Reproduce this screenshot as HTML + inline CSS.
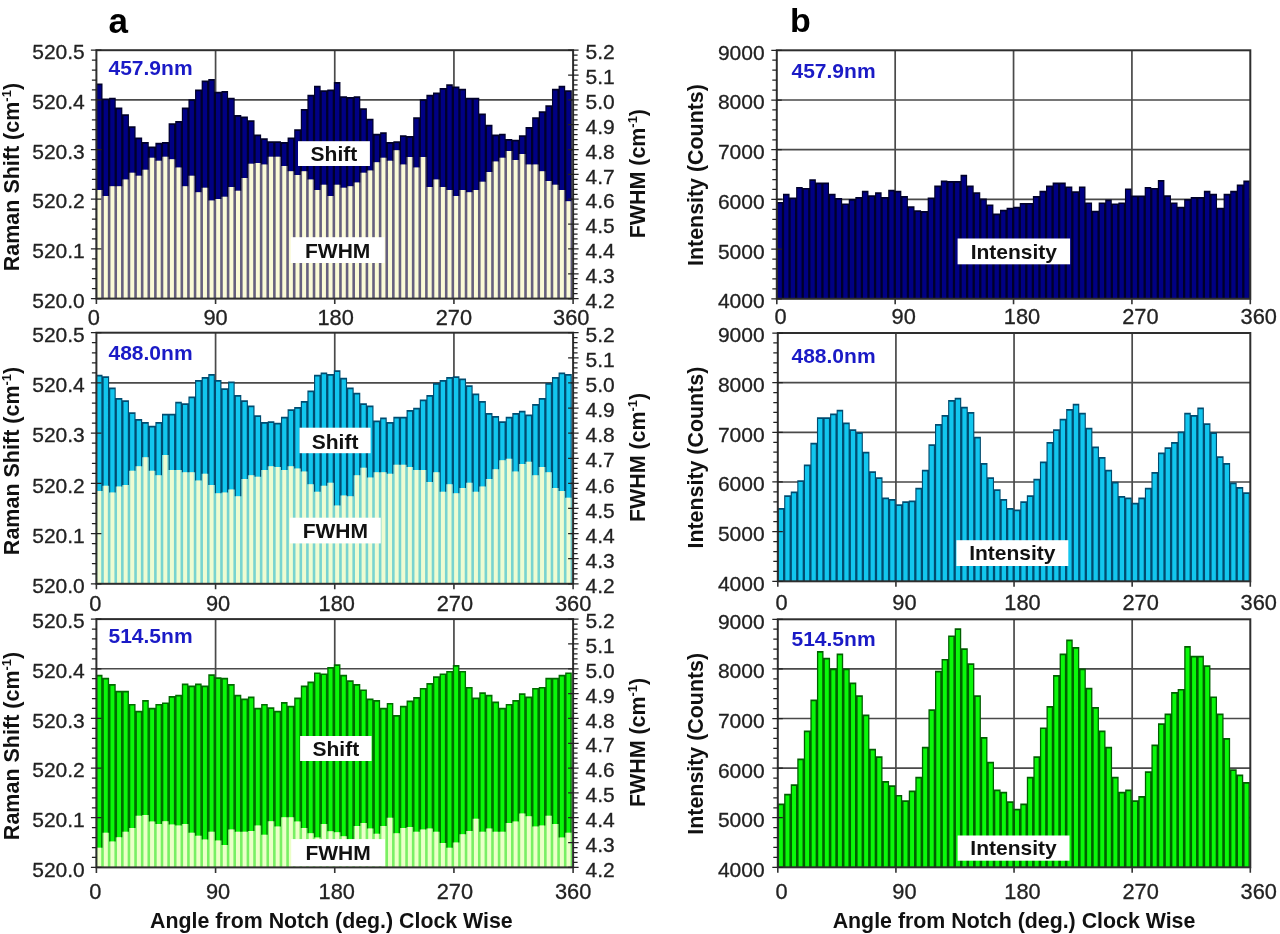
<!DOCTYPE html>
<html><head><meta charset="utf-8"><style>
html,body{margin:0;padding:0;background:#fff;overflow:hidden;}
svg{display:block;font-family:"Liberation Sans", sans-serif;}
svg{will-change:transform;}
</style></head><body>
<svg width="1280" height="934" viewBox="0 0 1280 934">
<rect width="1280" height="934" fill="#fff"/>
<path d="M215.58 50.2V298.6M334.75 50.2V298.6M453.93 50.2V298.6M96.4 99.88H573.1M96.4 149.56H573.1M96.4 199.24H573.1M96.4 248.92H573.1" stroke="#4a4a4a" stroke-width="1.7" fill="none"/>
<path d="M95.9 298.6V83.5H102.51V298.6ZM102.51 298.6V98.5H109.12V298.6ZM109.12 298.6V97.8H115.73V298.6ZM115.73 298.6V107.5H122.34V298.6ZM122.34 298.6V114.3H128.95V298.6ZM128.95 298.6V126.3H135.56V298.6ZM135.56 298.6V137.5H142.17V298.6ZM142.17 298.6V142H148.78V298.6ZM148.78 298.6V146.5H155.39V298.6ZM155.39 298.6V142.8H162V298.6ZM162 298.6V142H168.61V298.6ZM168.61 298.6V123.3H175.22V298.6ZM175.22 298.6V121H181.83V298.6ZM181.83 298.6V107.5H188.44V298.6ZM188.44 298.6V99.3H195.05V298.6ZM195.05 298.6V89.5H201.66V298.6ZM201.66 298.6V80.5H208.27V298.6ZM208.27 298.6V79H214.88V298.6ZM214.88 298.6V91.8H221.48V298.6ZM221.48 298.6V91H228.09V298.6ZM228.09 298.6V97.8H234.7V298.6ZM234.7 298.6V115H241.31V298.6ZM241.31 298.6V116.5H247.92V298.6ZM247.92 298.6V120.3H254.53V298.6ZM254.53 298.6V134.5H261.14V298.6ZM261.14 298.6V138.3H267.75V298.6ZM267.75 298.6V141.3H274.36V298.6ZM274.36 298.6V141.3H280.97V298.6ZM280.97 298.6V142H287.58V298.6ZM287.58 298.6V137.5H294.19V298.6ZM294.19 298.6V129.3H300.8V298.6ZM300.8 298.6V109H307.41V298.6ZM307.41 298.6V94.8H314.02V298.6ZM314.02 298.6V85.8H320.63V298.6ZM320.63 298.6V90.3H327.24V298.6ZM327.24 298.6V89.5H333.85V298.6ZM333.85 298.6V82H340.46V298.6ZM340.46 298.6V96.3H347.07V298.6ZM347.07 298.6V97H353.68V298.6ZM353.68 298.6V96.3H360.29V298.6ZM360.29 298.6V108.3H366.9V298.6ZM366.9 298.6V118.8H373.51V298.6ZM373.51 298.6V133.8H380.12V298.6ZM380.12 298.6V132.3H386.73V298.6ZM386.73 298.6V142H393.34V298.6ZM393.34 298.6V141.3H399.95V298.6ZM399.95 298.6V135.3H406.56V298.6ZM406.56 298.6V136H413.17V298.6ZM413.17 298.6V117.3H419.78V298.6ZM419.78 298.6V99.3H426.39V298.6ZM426.39 298.6V94.8H433V298.6ZM433 298.6V92.5H439.61V298.6ZM439.61 298.6V88H446.22V298.6ZM446.22 298.6V84.3H452.82V298.6ZM452.82 298.6V86.5H459.43V298.6ZM459.43 298.6V88.8H466.04V298.6ZM466.04 298.6V97.8H472.65V298.6ZM472.65 298.6V97.8H479.26V298.6ZM479.26 298.6V113.5H485.87V298.6ZM485.87 298.6V124.8H492.48V298.6ZM492.48 298.6V134.5H499.09V298.6ZM499.09 298.6V133.8H505.7V298.6ZM505.7 298.6V139H512.31V298.6ZM512.31 298.6V139.8H518.92V298.6ZM518.92 298.6V135.3H525.53V298.6ZM525.53 298.6V127H532.14V298.6ZM532.14 298.6V117.3H538.75V298.6ZM538.75 298.6V111.3H545.36V298.6ZM545.36 298.6V105.3H551.97V298.6ZM551.97 298.6V88.8H558.58V298.6ZM558.58 298.6V85.8H565.19V298.6ZM565.19 298.6V90.3H571.8V298.6Z" fill="#00002a"/>
<path d="M97.05 298.6V85.2H101.36V298.6ZM103.66 298.6V100.2H107.97V298.6ZM110.27 298.6V99.5H114.58V298.6ZM116.88 298.6V109.2H121.19V298.6ZM123.49 298.6V116H127.8V298.6ZM130.1 298.6V128H134.41V298.6ZM136.71 298.6V139.2H141.02V298.6ZM143.32 298.6V143.7H147.63V298.6ZM149.93 298.6V148.2H154.24V298.6ZM156.54 298.6V144.5H160.85V298.6ZM163.15 298.6V143.7H167.46V298.6ZM169.76 298.6V125H174.07V298.6ZM176.37 298.6V122.7H180.68V298.6ZM182.98 298.6V109.2H187.29V298.6ZM189.59 298.6V101H193.9V298.6ZM196.2 298.6V91.2H200.51V298.6ZM202.81 298.6V82.2H207.12V298.6ZM209.42 298.6V80.7H213.72V298.6ZM216.03 298.6V93.5H220.33V298.6ZM222.63 298.6V92.7H226.94V298.6ZM229.24 298.6V99.5H233.55V298.6ZM235.85 298.6V116.7H240.16V298.6ZM242.46 298.6V118.2H246.77V298.6ZM249.07 298.6V122H253.38V298.6ZM255.68 298.6V136.2H259.99V298.6ZM262.29 298.6V140H266.6V298.6ZM268.9 298.6V143H273.21V298.6ZM275.51 298.6V143H279.82V298.6ZM282.12 298.6V143.7H286.43V298.6ZM288.73 298.6V139.2H293.04V298.6ZM295.34 298.6V131H299.65V298.6ZM301.95 298.6V110.7H306.26V298.6ZM308.56 298.6V96.5H312.87V298.6ZM315.17 298.6V87.5H319.48V298.6ZM321.78 298.6V92H326.09V298.6ZM328.39 298.6V91.2H332.7V298.6ZM335 298.6V83.7H339.31V298.6ZM341.61 298.6V98H345.92V298.6ZM348.22 298.6V98.7H352.53V298.6ZM354.83 298.6V98H359.14V298.6ZM361.44 298.6V110H365.75V298.6ZM368.05 298.6V120.5H372.36V298.6ZM374.66 298.6V135.5H378.97V298.6ZM381.27 298.6V134H385.58V298.6ZM387.88 298.6V143.7H392.19V298.6ZM394.49 298.6V143H398.8V298.6ZM401.1 298.6V137H405.41V298.6ZM407.71 298.6V137.7H412.02V298.6ZM414.32 298.6V119H418.63V298.6ZM420.93 298.6V101H425.24V298.6ZM427.54 298.6V96.5H431.85V298.6ZM434.15 298.6V94.2H438.46V298.6ZM440.76 298.6V89.7H445.07V298.6ZM447.37 298.6V86H451.67V298.6ZM453.97 298.6V88.2H458.28V298.6ZM460.58 298.6V90.5H464.89V298.6ZM467.19 298.6V99.5H471.5V298.6ZM473.8 298.6V99.5H478.11V298.6ZM480.41 298.6V115.2H484.72V298.6ZM487.02 298.6V126.5H491.33V298.6ZM493.63 298.6V136.2H497.94V298.6ZM500.24 298.6V135.5H504.55V298.6ZM506.85 298.6V140.7H511.16V298.6ZM513.46 298.6V141.5H517.77V298.6ZM520.07 298.6V137H524.38V298.6ZM526.68 298.6V128.7H530.99V298.6ZM533.29 298.6V119H537.6V298.6ZM539.9 298.6V113H544.21V298.6ZM546.51 298.6V107H550.82V298.6ZM553.12 298.6V90.5H557.43V298.6ZM559.73 298.6V87.5H564.04V298.6ZM566.34 298.6V92H570.65V298.6Z" fill="#000084"/>
<path d="M95.9 298.6V190H102.51V298.6ZM102.51 298.6V196H109.12V298.6ZM109.12 298.6V186.2H115.73V298.6ZM115.73 298.6V186.2H122.34V298.6ZM122.34 298.6V179.4H128.95V298.6ZM128.95 298.6V172.7H135.56V298.6ZM135.56 298.6V175.7H142.17V298.6ZM142.17 298.6V169.7H148.78V298.6ZM148.78 298.6V157.7H155.39V298.6ZM155.39 298.6V160.7H162V298.6ZM162 298.6V156.7H168.61V298.6ZM168.61 298.6V159.2H175.22V298.6ZM175.22 298.6V167.5H181.83V298.6ZM181.83 298.6V186.2H188.44V298.6ZM188.44 298.6V175.7H195.05V298.6ZM195.05 298.6V192.2H201.66V298.6ZM201.66 298.6V187.7H208.27V298.6ZM208.27 298.6V200.4H214.88V298.6ZM214.88 298.6V199H221.48V298.6ZM221.48 298.6V196.7H228.09V298.6ZM228.09 298.6V187H234.7V298.6ZM234.7 298.6V190.7H241.31V298.6ZM241.31 298.6V178H247.92V298.6ZM247.92 298.6V163.7H254.53V298.6ZM254.53 298.6V163H261.14V298.6ZM261.14 298.6V164.5H267.75V298.6ZM267.75 298.6V156.7H274.36V298.6ZM274.36 298.6V156.7H280.97V298.6ZM280.97 298.6V166H287.58V298.6ZM287.58 298.6V171.2H294.19V298.6ZM294.19 298.6V175H300.8V298.6ZM300.8 298.6V171.2H307.41V298.6ZM307.41 298.6V179.4H314.02V298.6ZM314.02 298.6V190H320.63V298.6ZM320.63 298.6V184.7H327.24V298.6ZM327.24 298.6V196H333.85V298.6ZM333.85 298.6V184.7H340.46V298.6ZM340.46 298.6V187.7H347.07V298.6ZM347.07 298.6V186.2H353.68V298.6ZM353.68 298.6V182.4H360.29V298.6ZM360.29 298.6V172.7H366.9V298.6ZM366.9 298.6V170.4H373.51V298.6ZM373.51 298.6V162.2H380.12V298.6ZM380.12 298.6V157.7H386.73V298.6ZM386.73 298.6V160.7H393.34V298.6ZM393.34 298.6V150.2H399.95V298.6ZM399.95 298.6V164.5H406.56V298.6ZM406.56 298.6V157H413.17V298.6ZM413.17 298.6V167.5H419.78V298.6ZM419.78 298.6V157H426.39V298.6ZM426.39 298.6V187H433V298.6ZM433 298.6V179.4H439.61V298.6ZM439.61 298.6V187H446.22V298.6ZM446.22 298.6V190H452.82V298.6ZM452.82 298.6V196H459.43V298.6ZM459.43 298.6V190H466.04V298.6ZM466.04 298.6V192.2H472.65V298.6ZM472.65 298.6V190H479.26V298.6ZM479.26 298.6V181.7H485.87V298.6ZM485.87 298.6V172H492.48V298.6ZM492.48 298.6V161.5H499.09V298.6ZM499.09 298.6V157.7H505.7V298.6ZM505.7 298.6V151H512.31V298.6ZM512.31 298.6V160H518.92V298.6ZM518.92 298.6V154H525.53V298.6ZM525.53 298.6V164.5H532.14V298.6ZM532.14 298.6V164.5H538.75V298.6ZM538.75 298.6V171.2H545.36V298.6ZM545.36 298.6V181H551.97V298.6ZM551.97 298.6V184.7H558.58V298.6ZM558.58 298.6V190H565.19V298.6ZM565.19 298.6V201.2H571.8V298.6Z" fill="#66607e"/>
<path d="M97.2 298.6V190H101.21V298.6ZM103.81 298.6V196H107.82V298.6ZM110.42 298.6V186.2H114.43V298.6ZM117.03 298.6V186.2H121.04V298.6ZM123.64 298.6V179.4H127.65V298.6ZM130.25 298.6V172.7H134.26V298.6ZM136.86 298.6V175.7H140.87V298.6ZM143.47 298.6V169.7H147.48V298.6ZM150.08 298.6V157.7H154.09V298.6ZM156.69 298.6V160.7H160.7V298.6ZM163.3 298.6V156.7H167.31V298.6ZM169.91 298.6V159.2H173.92V298.6ZM176.52 298.6V167.5H180.53V298.6ZM183.13 298.6V186.2H187.14V298.6ZM189.74 298.6V175.7H193.75V298.6ZM196.35 298.6V192.2H200.36V298.6ZM202.96 298.6V187.7H206.97V298.6ZM209.57 298.6V200.4H213.57V298.6ZM216.18 298.6V199H220.18V298.6ZM222.78 298.6V196.7H226.79V298.6ZM229.39 298.6V187H233.4V298.6ZM236 298.6V190.7H240.01V298.6ZM242.61 298.6V178H246.62V298.6ZM249.22 298.6V163.7H253.23V298.6ZM255.83 298.6V163H259.84V298.6ZM262.44 298.6V164.5H266.45V298.6ZM269.05 298.6V156.7H273.06V298.6ZM275.66 298.6V156.7H279.67V298.6ZM282.27 298.6V166H286.28V298.6ZM288.88 298.6V171.2H292.89V298.6ZM295.49 298.6V175H299.5V298.6ZM302.1 298.6V171.2H306.11V298.6ZM308.71 298.6V179.4H312.72V298.6ZM315.32 298.6V190H319.33V298.6ZM321.93 298.6V184.7H325.94V298.6ZM328.54 298.6V196H332.55V298.6ZM335.15 298.6V184.7H339.16V298.6ZM341.76 298.6V187.7H345.77V298.6ZM348.37 298.6V186.2H352.38V298.6ZM354.98 298.6V182.4H358.99V298.6ZM361.59 298.6V172.7H365.6V298.6ZM368.2 298.6V170.4H372.21V298.6ZM374.81 298.6V162.2H378.82V298.6ZM381.42 298.6V157.7H385.43V298.6ZM388.03 298.6V160.7H392.04V298.6ZM394.64 298.6V150.2H398.65V298.6ZM401.25 298.6V164.5H405.26V298.6ZM407.86 298.6V157H411.87V298.6ZM414.47 298.6V167.5H418.48V298.6ZM421.08 298.6V157H425.09V298.6ZM427.69 298.6V187H431.7V298.6ZM434.3 298.6V179.4H438.31V298.6ZM440.91 298.6V187H444.92V298.6ZM447.52 298.6V190H451.52V298.6ZM454.12 298.6V196H458.13V298.6ZM460.73 298.6V190H464.74V298.6ZM467.34 298.6V192.2H471.35V298.6ZM473.95 298.6V190H477.96V298.6ZM480.56 298.6V181.7H484.57V298.6ZM487.17 298.6V172H491.18V298.6ZM493.78 298.6V161.5H497.79V298.6ZM500.39 298.6V157.7H504.4V298.6ZM507 298.6V151H511.01V298.6ZM513.61 298.6V160H517.62V298.6ZM520.22 298.6V154H524.23V298.6ZM526.83 298.6V164.5H530.84V298.6ZM533.44 298.6V164.5H537.45V298.6ZM540.05 298.6V171.2H544.06V298.6ZM546.66 298.6V181H550.67V298.6ZM553.27 298.6V184.7H557.28V298.6ZM559.88 298.6V190H563.89V298.6ZM566.49 298.6V201.2H570.5V298.6Z" fill="#fafad7"/>
<rect x="298" y="141.2" width="71.9" height="24.8" fill="#fff"/>
<text x="333.95" y="160.7" font-size="21" font-weight="bold" text-anchor="middle" fill="#111" >Shift</text>
<rect x="290.8" y="237.2" width="93.7" height="25.8" fill="#fff"/>
<text x="337.65" y="258.3" font-size="21" font-weight="bold" text-anchor="middle" fill="#111" >FWHM</text>
<rect x="96.4" y="50.2" width="476.7" height="248.4" fill="none" stroke="#2e2e2e" stroke-width="2.0"/>
<path d="M90.9 50.2H101.4M91.9 60.14H96.4M91.9 70.07H96.4M91.9 80.01H96.4M91.9 89.94H96.4M90.9 99.88H101.4M91.9 109.82H96.4M91.9 119.75H96.4M91.9 129.69H96.4M91.9 139.62H96.4M90.9 149.56H101.4M91.9 159.5H96.4M91.9 169.43H96.4M91.9 179.37H96.4M91.9 189.3H96.4M90.9 199.24H101.4M91.9 209.18H96.4M91.9 219.11H96.4M91.9 229.05H96.4M91.9 238.98H96.4M90.9 248.92H101.4M91.9 258.86H96.4M91.9 268.79H96.4M91.9 278.73H96.4M91.9 288.66H96.4M90.9 298.6H101.4" stroke="#222" stroke-width="1.25" fill="none"/>
<path d="M568.1 50.2H578.6M573.1 55.17H577.6M573.1 60.14H577.6M573.1 65.1H577.6M573.1 70.07H577.6M568.1 75.04H578.6M573.1 80.01H577.6M573.1 84.98H577.6M573.1 89.94H577.6M573.1 94.91H577.6M568.1 99.88H578.6M573.1 104.85H577.6M573.1 109.82H577.6M573.1 114.78H577.6M573.1 119.75H577.6M568.1 124.72H578.6M573.1 129.69H577.6M573.1 134.66H577.6M573.1 139.62H577.6M573.1 144.59H577.6M568.1 149.56H578.6M573.1 154.53H577.6M573.1 159.5H577.6M573.1 164.46H577.6M573.1 169.43H577.6M568.1 174.4H578.6M573.1 179.37H577.6M573.1 184.34H577.6M573.1 189.3H577.6M573.1 194.27H577.6M568.1 199.24H578.6M573.1 204.21H577.6M573.1 209.18H577.6M573.1 214.14H577.6M573.1 219.11H577.6M568.1 224.08H578.6M573.1 229.05H577.6M573.1 234.02H577.6M573.1 238.98H577.6M573.1 243.95H577.6M568.1 248.92H578.6M573.1 253.89H577.6M573.1 258.86H577.6M573.1 263.82H577.6M573.1 268.79H577.6M568.1 273.76H578.6M573.1 278.73H577.6M573.1 283.7H577.6M573.1 288.66H577.6M573.1 293.63H577.6M568.1 298.6H578.6" stroke="#222" stroke-width="1.25" fill="none"/>
<path d="M96.4 298.6V304.1M215.58 298.6V304.1M334.75 298.6V304.1M453.93 298.6V304.1M573.1 298.6V304.1" stroke="#333" stroke-width="1.6" fill="none"/>
<text x="84.8" y="307.8" font-size="21" font-weight="normal" text-anchor="end" fill="#222" stroke="#222" stroke-width="0.3">520.0</text>
<text x="84.8" y="258.12" font-size="21" font-weight="normal" text-anchor="end" fill="#222" stroke="#222" stroke-width="0.3">520.1</text>
<text x="84.8" y="208.44" font-size="21" font-weight="normal" text-anchor="end" fill="#222" stroke="#222" stroke-width="0.3">520.2</text>
<text x="84.8" y="158.76" font-size="21" font-weight="normal" text-anchor="end" fill="#222" stroke="#222" stroke-width="0.3">520.3</text>
<text x="84.8" y="109.08" font-size="21" font-weight="normal" text-anchor="end" fill="#222" stroke="#222" stroke-width="0.3">520.4</text>
<text x="84.8" y="59.4" font-size="21" font-weight="normal" text-anchor="end" fill="#222" stroke="#222" stroke-width="0.3">520.5</text>
<text x="585.5" y="307.8" font-size="21" font-weight="normal" text-anchor="start" fill="#222" stroke="#222" stroke-width="0.3">4.2</text>
<text x="585.5" y="282.96" font-size="21" font-weight="normal" text-anchor="start" fill="#222" stroke="#222" stroke-width="0.3">4.3</text>
<text x="585.5" y="258.12" font-size="21" font-weight="normal" text-anchor="start" fill="#222" stroke="#222" stroke-width="0.3">4.4</text>
<text x="585.5" y="233.28" font-size="21" font-weight="normal" text-anchor="start" fill="#222" stroke="#222" stroke-width="0.3">4.5</text>
<text x="585.5" y="208.44" font-size="21" font-weight="normal" text-anchor="start" fill="#222" stroke="#222" stroke-width="0.3">4.6</text>
<text x="585.5" y="183.6" font-size="21" font-weight="normal" text-anchor="start" fill="#222" stroke="#222" stroke-width="0.3">4.7</text>
<text x="585.5" y="158.76" font-size="21" font-weight="normal" text-anchor="start" fill="#222" stroke="#222" stroke-width="0.3">4.8</text>
<text x="585.5" y="133.92" font-size="21" font-weight="normal" text-anchor="start" fill="#222" stroke="#222" stroke-width="0.3">4.9</text>
<text x="585.5" y="109.08" font-size="21" font-weight="normal" text-anchor="start" fill="#222" stroke="#222" stroke-width="0.3">5.0</text>
<text x="585.5" y="84.24" font-size="21" font-weight="normal" text-anchor="start" fill="#222" stroke="#222" stroke-width="0.3">5.1</text>
<text x="585.5" y="59.4" font-size="21" font-weight="normal" text-anchor="start" fill="#222" stroke="#222" stroke-width="0.3">5.2</text>
<text x="93.9" y="325.2" font-size="21.8" font-weight="normal" text-anchor="middle" fill="#222" stroke="#222" stroke-width="0.3">0</text>
<text x="215.58" y="325.2" font-size="21.8" font-weight="normal" text-anchor="middle" fill="#222" stroke="#222" stroke-width="0.3">90</text>
<text x="335.6" y="325.2" font-size="21.8" font-weight="normal" text-anchor="middle" fill="#222" stroke="#222" stroke-width="0.3">180</text>
<text x="453.93" y="325.2" font-size="21.8" font-weight="normal" text-anchor="middle" fill="#222" stroke="#222" stroke-width="0.3">270</text>
<text x="571.3" y="325.2" font-size="21.8" font-weight="normal" text-anchor="middle" fill="#222" stroke="#222" stroke-width="0.3">360</text>
<text x="108.5" y="74.7" font-size="21" font-weight="bold" text-anchor="start" fill="#1a1ac6" >457.9nm</text>
<text transform="translate(19.4,177.1) rotate(-90)" font-size="21.5" font-weight="bold" text-anchor="middle" fill="#111">Raman Shift (cm<tspan font-size="13" dy="-8">-1</tspan><tspan dy="8">)</tspan></text>
<text transform="translate(645.4,173.6) rotate(-90)" font-size="21.4" font-weight="bold" text-anchor="middle" fill="#111">FWHM (cm<tspan font-size="13" dy="-8">-1</tspan><tspan dy="8">)</tspan></text>
<path d="M215.58 332.7V583.8M334.75 332.7V583.8M453.93 332.7V583.8M96.4 382.92H573.1M96.4 433.14H573.1M96.4 483.36H573.1M96.4 533.58H573.1" stroke="#4a4a4a" stroke-width="1.7" fill="none"/>
<path d="M95.9 583.8V374.8H102.51V583.8ZM102.51 583.8V376.3H109.12V583.8ZM109.12 583.8V387.5H115.73V583.8ZM115.73 583.8V398H122.34V583.8ZM122.34 583.8V400.3H128.95V583.8ZM128.95 583.8V412.3H135.56V583.8ZM135.56 583.8V419H142.17V583.8ZM142.17 583.8V422H148.78V583.8ZM148.78 583.8V425.8H155.39V583.8ZM155.39 583.8V422H162V583.8ZM162 583.8V413.8H168.61V583.8ZM168.61 583.8V413.8H175.22V583.8ZM175.22 583.8V401.8H181.83V583.8ZM181.83 583.8V403.3H188.44V583.8ZM188.44 583.8V396.5H195.05V583.8ZM195.05 583.8V380H201.66V583.8ZM201.66 583.8V377H208.27V583.8ZM208.27 583.8V374H214.88V583.8ZM214.88 583.8V380H221.48V583.8ZM221.48 583.8V388.3H228.09V583.8ZM228.09 583.8V381.5H234.7V583.8ZM234.7 583.8V395H241.31V583.8ZM241.31 583.8V400.3H247.92V583.8ZM247.92 583.8V405.5H254.53V583.8ZM254.53 583.8V415.3H261.14V583.8ZM261.14 583.8V422H267.75V583.8ZM267.75 583.8V421.3H274.36V583.8ZM274.36 583.8V422.8H280.97V583.8ZM280.97 583.8V416.8H287.58V583.8ZM287.58 583.8V409.3H294.19V583.8ZM294.19 583.8V407H300.8V583.8ZM300.8 583.8V401H307.41V583.8ZM307.41 583.8V390.5H314.02V583.8ZM314.02 583.8V374.8H320.63V583.8ZM320.63 583.8V372.5H327.24V583.8ZM327.24 583.8V374H333.85V583.8ZM333.85 583.8V370.3H340.46V583.8ZM340.46 583.8V377.8H347.07V583.8ZM347.07 583.8V387.5H353.68V583.8ZM353.68 583.8V392.8H360.29V583.8ZM360.29 583.8V403.3H366.9V583.8ZM366.9 583.8V405.5H373.51V583.8ZM373.51 583.8V420.5H380.12V583.8ZM380.12 583.8V417.5H386.73V583.8ZM386.73 583.8V422H393.34V583.8ZM393.34 583.8V416.8H399.95V583.8ZM399.95 583.8V416.8H406.56V583.8ZM406.56 583.8V410H413.17V583.8ZM413.17 583.8V407.8H419.78V583.8ZM419.78 583.8V399.5H426.39V583.8ZM426.39 583.8V395H433V583.8ZM433 583.8V383H439.61V583.8ZM439.61 583.8V380H446.22V583.8ZM446.22 583.8V377H452.82V583.8ZM452.82 583.8V376.3H459.43V583.8ZM459.43 583.8V378.5H466.04V583.8ZM466.04 583.8V385.3H472.65V583.8ZM472.65 583.8V393.5H479.26V583.8ZM479.26 583.8V401H485.87V583.8ZM485.87 583.8V413H492.48V583.8ZM492.48 583.8V416H499.09V583.8ZM499.09 583.8V421.3H505.7V583.8ZM505.7 583.8V416.8H512.31V583.8ZM512.31 583.8V413H518.92V583.8ZM518.92 583.8V410.8H525.53V583.8ZM525.53 583.8V414.5H532.14V583.8ZM532.14 583.8V404H538.75V583.8ZM538.75 583.8V398H545.36V583.8ZM545.36 583.8V383H551.97V583.8ZM551.97 583.8V377H558.58V583.8ZM558.58 583.8V372.5H565.19V583.8ZM565.19 583.8V374H571.8V583.8Z" fill="#004c70"/>
<path d="M97.05 583.8V376.5H101.36V583.8ZM103.66 583.8V378H107.97V583.8ZM110.27 583.8V389.2H114.58V583.8ZM116.88 583.8V399.7H121.19V583.8ZM123.49 583.8V402H127.8V583.8ZM130.1 583.8V414H134.41V583.8ZM136.71 583.8V420.7H141.02V583.8ZM143.32 583.8V423.7H147.63V583.8ZM149.93 583.8V427.5H154.24V583.8ZM156.54 583.8V423.7H160.85V583.8ZM163.15 583.8V415.5H167.46V583.8ZM169.76 583.8V415.5H174.07V583.8ZM176.37 583.8V403.5H180.68V583.8ZM182.98 583.8V405H187.29V583.8ZM189.59 583.8V398.2H193.9V583.8ZM196.2 583.8V381.7H200.51V583.8ZM202.81 583.8V378.7H207.12V583.8ZM209.42 583.8V375.7H213.72V583.8ZM216.03 583.8V381.7H220.33V583.8ZM222.63 583.8V390H226.94V583.8ZM229.24 583.8V383.2H233.55V583.8ZM235.85 583.8V396.7H240.16V583.8ZM242.46 583.8V402H246.77V583.8ZM249.07 583.8V407.2H253.38V583.8ZM255.68 583.8V417H259.99V583.8ZM262.29 583.8V423.7H266.6V583.8ZM268.9 583.8V423H273.21V583.8ZM275.51 583.8V424.5H279.82V583.8ZM282.12 583.8V418.5H286.43V583.8ZM288.73 583.8V411H293.04V583.8ZM295.34 583.8V408.7H299.65V583.8ZM301.95 583.8V402.7H306.26V583.8ZM308.56 583.8V392.2H312.87V583.8ZM315.17 583.8V376.5H319.48V583.8ZM321.78 583.8V374.2H326.09V583.8ZM328.39 583.8V375.7H332.7V583.8ZM335 583.8V372H339.31V583.8ZM341.61 583.8V379.5H345.92V583.8ZM348.22 583.8V389.2H352.53V583.8ZM354.83 583.8V394.5H359.14V583.8ZM361.44 583.8V405H365.75V583.8ZM368.05 583.8V407.2H372.36V583.8ZM374.66 583.8V422.2H378.97V583.8ZM381.27 583.8V419.2H385.58V583.8ZM387.88 583.8V423.7H392.19V583.8ZM394.49 583.8V418.5H398.8V583.8ZM401.1 583.8V418.5H405.41V583.8ZM407.71 583.8V411.7H412.02V583.8ZM414.32 583.8V409.5H418.63V583.8ZM420.93 583.8V401.2H425.24V583.8ZM427.54 583.8V396.7H431.85V583.8ZM434.15 583.8V384.7H438.46V583.8ZM440.76 583.8V381.7H445.07V583.8ZM447.37 583.8V378.7H451.67V583.8ZM453.97 583.8V378H458.28V583.8ZM460.58 583.8V380.2H464.89V583.8ZM467.19 583.8V387H471.5V583.8ZM473.8 583.8V395.2H478.11V583.8ZM480.41 583.8V402.7H484.72V583.8ZM487.02 583.8V414.7H491.33V583.8ZM493.63 583.8V417.7H497.94V583.8ZM500.24 583.8V423H504.55V583.8ZM506.85 583.8V418.5H511.16V583.8ZM513.46 583.8V414.7H517.77V583.8ZM520.07 583.8V412.5H524.38V583.8ZM526.68 583.8V416.2H530.99V583.8ZM533.29 583.8V405.7H537.6V583.8ZM539.9 583.8V399.7H544.21V583.8ZM546.51 583.8V384.7H550.82V583.8ZM553.12 583.8V378.7H557.43V583.8ZM559.73 583.8V374.2H564.04V583.8ZM566.34 583.8V375.7H570.65V583.8Z" fill="#12c6ee"/>
<path d="M95.9 583.8V491H102.51V583.8ZM102.51 583.8V485.7H109.12V583.8ZM109.12 583.8V492.4H115.73V583.8ZM115.73 583.8V486.4H122.34V583.8ZM122.34 583.8V485H128.95V583.8ZM128.95 583.8V470.7H135.56V583.8ZM135.56 583.8V466.2H142.17V583.8ZM142.17 583.8V457.2H148.78V583.8ZM148.78 583.8V470.7H155.39V583.8ZM155.39 583.8V475.2H162V583.8ZM162 583.8V455H168.61V583.8ZM168.61 583.8V470H175.22V583.8ZM175.22 583.8V470H181.83V583.8ZM181.83 583.8V472.2H188.44V583.8ZM188.44 583.8V472.2H195.05V583.8ZM195.05 583.8V480.4H201.66V583.8ZM201.66 583.8V473.7H208.27V583.8ZM208.27 583.8V485H214.88V583.8ZM214.88 583.8V493.2H221.48V583.8ZM221.48 583.8V492.4H228.09V583.8ZM228.09 583.8V489.4H234.7V583.8ZM234.7 583.8V496.2H241.31V583.8ZM241.31 583.8V479H247.92V583.8ZM247.92 583.8V475.2H254.53V583.8ZM254.53 583.8V476.7H261.14V583.8ZM261.14 583.8V470H267.75V583.8ZM267.75 583.8V466.2H274.36V583.8ZM274.36 583.8V467H280.97V583.8ZM280.97 583.8V470H287.58V583.8ZM287.58 583.8V466.2H294.19V583.8ZM294.19 583.8V468.4H300.8V583.8ZM300.8 583.8V471.4H307.41V583.8ZM307.41 583.8V484.2H314.02V583.8ZM314.02 583.8V491.7H320.63V583.8ZM320.63 583.8V485.7H327.24V583.8ZM327.24 583.8V482.7H333.85V583.8ZM333.85 583.8V505.6H340.46V583.8ZM340.46 583.8V495.4H347.07V583.8ZM347.07 583.8V496.2H353.68V583.8ZM353.68 583.8V475.2H360.29V583.8ZM360.29 583.8V467.7H366.9V583.8ZM366.9 583.8V477.4H373.51V583.8ZM373.51 583.8V472.2H380.12V583.8ZM380.12 583.8V472.2H386.73V583.8ZM386.73 583.8V473.7H393.34V583.8ZM393.34 583.8V464.7H399.95V583.8ZM399.95 583.8V464.7H406.56V583.8ZM406.56 583.8V467H413.17V583.8ZM413.17 583.8V470H419.78V583.8ZM419.78 583.8V470H426.39V583.8ZM426.39 583.8V482H433V583.8ZM433 583.8V472.2H439.61V583.8ZM439.61 583.8V491.7H446.22V583.8ZM446.22 583.8V484.2H452.82V583.8ZM452.82 583.8V493.2H459.43V583.8ZM459.43 583.8V488H466.04V583.8ZM466.04 583.8V482.7H472.65V583.8ZM472.65 583.8V491.7H479.26V583.8ZM479.26 583.8V486.4H485.87V583.8ZM485.87 583.8V479H492.48V583.8ZM492.48 583.8V469.2H499.09V583.8ZM499.09 583.8V460.2H505.7V583.8ZM505.7 583.8V458.7H512.31V583.8ZM512.31 583.8V471.4H518.92V583.8ZM518.92 583.8V464H525.53V583.8ZM525.53 583.8V461.7H532.14V583.8ZM532.14 583.8V475.2H538.75V583.8ZM538.75 583.8V467H545.36V583.8ZM545.36 583.8V472.2H551.97V583.8ZM551.97 583.8V488H558.58V583.8ZM558.58 583.8V491H565.19V583.8ZM565.19 583.8V497.7H571.8V583.8Z" fill="#78d4d0"/>
<path d="M97.2 583.8V491H101.21V583.8ZM103.81 583.8V485.7H107.82V583.8ZM110.42 583.8V492.4H114.43V583.8ZM117.03 583.8V486.4H121.04V583.8ZM123.64 583.8V485H127.65V583.8ZM130.25 583.8V470.7H134.26V583.8ZM136.86 583.8V466.2H140.87V583.8ZM143.47 583.8V457.2H147.48V583.8ZM150.08 583.8V470.7H154.09V583.8ZM156.69 583.8V475.2H160.7V583.8ZM163.3 583.8V455H167.31V583.8ZM169.91 583.8V470H173.92V583.8ZM176.52 583.8V470H180.53V583.8ZM183.13 583.8V472.2H187.14V583.8ZM189.74 583.8V472.2H193.75V583.8ZM196.35 583.8V480.4H200.36V583.8ZM202.96 583.8V473.7H206.97V583.8ZM209.57 583.8V485H213.57V583.8ZM216.18 583.8V493.2H220.18V583.8ZM222.78 583.8V492.4H226.79V583.8ZM229.39 583.8V489.4H233.4V583.8ZM236 583.8V496.2H240.01V583.8ZM242.61 583.8V479H246.62V583.8ZM249.22 583.8V475.2H253.23V583.8ZM255.83 583.8V476.7H259.84V583.8ZM262.44 583.8V470H266.45V583.8ZM269.05 583.8V466.2H273.06V583.8ZM275.66 583.8V467H279.67V583.8ZM282.27 583.8V470H286.28V583.8ZM288.88 583.8V466.2H292.89V583.8ZM295.49 583.8V468.4H299.5V583.8ZM302.1 583.8V471.4H306.11V583.8ZM308.71 583.8V484.2H312.72V583.8ZM315.32 583.8V491.7H319.33V583.8ZM321.93 583.8V485.7H325.94V583.8ZM328.54 583.8V482.7H332.55V583.8ZM335.15 583.8V505.6H339.16V583.8ZM341.76 583.8V495.4H345.77V583.8ZM348.37 583.8V496.2H352.38V583.8ZM354.98 583.8V475.2H358.99V583.8ZM361.59 583.8V467.7H365.6V583.8ZM368.2 583.8V477.4H372.21V583.8ZM374.81 583.8V472.2H378.82V583.8ZM381.42 583.8V472.2H385.43V583.8ZM388.03 583.8V473.7H392.04V583.8ZM394.64 583.8V464.7H398.65V583.8ZM401.25 583.8V464.7H405.26V583.8ZM407.86 583.8V467H411.87V583.8ZM414.47 583.8V470H418.48V583.8ZM421.08 583.8V470H425.09V583.8ZM427.69 583.8V482H431.7V583.8ZM434.3 583.8V472.2H438.31V583.8ZM440.91 583.8V491.7H444.92V583.8ZM447.52 583.8V484.2H451.52V583.8ZM454.12 583.8V493.2H458.13V583.8ZM460.73 583.8V488H464.74V583.8ZM467.34 583.8V482.7H471.35V583.8ZM473.95 583.8V491.7H477.96V583.8ZM480.56 583.8V486.4H484.57V583.8ZM487.17 583.8V479H491.18V583.8ZM493.78 583.8V469.2H497.79V583.8ZM500.39 583.8V460.2H504.4V583.8ZM507 583.8V458.7H511.01V583.8ZM513.61 583.8V471.4H517.62V583.8ZM520.22 583.8V464H524.23V583.8ZM526.83 583.8V461.7H530.84V583.8ZM533.44 583.8V475.2H537.45V583.8ZM540.05 583.8V467H544.06V583.8ZM546.66 583.8V472.2H550.67V583.8ZM553.27 583.8V488H557.28V583.8ZM559.88 583.8V491H563.89V583.8ZM566.49 583.8V497.7H570.5V583.8Z" fill="#eefcd2"/>
<rect x="299.5" y="427.7" width="71.1" height="25.5" fill="#fff"/>
<text x="335.05" y="448.7" font-size="21" font-weight="bold" text-anchor="middle" fill="#111" >Shift</text>
<rect x="289.8" y="517.7" width="91" height="25.7" fill="#fff"/>
<text x="335.3" y="538.3" font-size="21" font-weight="bold" text-anchor="middle" fill="#111" >FWHM</text>
<rect x="96.4" y="332.7" width="476.7" height="251.1" fill="none" stroke="#2e2e2e" stroke-width="2.0"/>
<path d="M90.9 332.7H101.4M91.9 342.74H96.4M91.9 352.79H96.4M91.9 362.83H96.4M91.9 372.88H96.4M90.9 382.92H101.4M91.9 392.96H96.4M91.9 403.01H96.4M91.9 413.05H96.4M91.9 423.1H96.4M90.9 433.14H101.4M91.9 443.18H96.4M91.9 453.23H96.4M91.9 463.27H96.4M91.9 473.32H96.4M90.9 483.36H101.4M91.9 493.4H96.4M91.9 503.45H96.4M91.9 513.49H96.4M91.9 523.54H96.4M90.9 533.58H101.4M91.9 543.62H96.4M91.9 553.67H96.4M91.9 563.71H96.4M91.9 573.76H96.4M90.9 583.8H101.4" stroke="#222" stroke-width="1.25" fill="none"/>
<path d="M568.1 332.7H578.6M573.1 337.72H577.6M573.1 342.74H577.6M573.1 347.77H577.6M573.1 352.79H577.6M568.1 357.81H578.6M573.1 362.83H577.6M573.1 367.85H577.6M573.1 372.88H577.6M573.1 377.9H577.6M568.1 382.92H578.6M573.1 387.94H577.6M573.1 392.96H577.6M573.1 397.99H577.6M573.1 403.01H577.6M568.1 408.03H578.6M573.1 413.05H577.6M573.1 418.07H577.6M573.1 423.1H577.6M573.1 428.12H577.6M568.1 433.14H578.6M573.1 438.16H577.6M573.1 443.18H577.6M573.1 448.21H577.6M573.1 453.23H577.6M568.1 458.25H578.6M573.1 463.27H577.6M573.1 468.29H577.6M573.1 473.32H577.6M573.1 478.34H577.6M568.1 483.36H578.6M573.1 488.38H577.6M573.1 493.4H577.6M573.1 498.43H577.6M573.1 503.45H577.6M568.1 508.47H578.6M573.1 513.49H577.6M573.1 518.51H577.6M573.1 523.54H577.6M573.1 528.56H577.6M568.1 533.58H578.6M573.1 538.6H577.6M573.1 543.62H577.6M573.1 548.65H577.6M573.1 553.67H577.6M568.1 558.69H578.6M573.1 563.71H577.6M573.1 568.73H577.6M573.1 573.76H577.6M573.1 578.78H577.6M568.1 583.8H578.6" stroke="#222" stroke-width="1.25" fill="none"/>
<path d="M96.4 583.8V589.3M215.58 583.8V589.3M334.75 583.8V589.3M453.93 583.8V589.3M573.1 583.8V589.3" stroke="#333" stroke-width="1.6" fill="none"/>
<text x="84.8" y="593" font-size="21" font-weight="normal" text-anchor="end" fill="#222" stroke="#222" stroke-width="0.3">520.0</text>
<text x="84.8" y="542.78" font-size="21" font-weight="normal" text-anchor="end" fill="#222" stroke="#222" stroke-width="0.3">520.1</text>
<text x="84.8" y="492.56" font-size="21" font-weight="normal" text-anchor="end" fill="#222" stroke="#222" stroke-width="0.3">520.2</text>
<text x="84.8" y="442.34" font-size="21" font-weight="normal" text-anchor="end" fill="#222" stroke="#222" stroke-width="0.3">520.3</text>
<text x="84.8" y="392.12" font-size="21" font-weight="normal" text-anchor="end" fill="#222" stroke="#222" stroke-width="0.3">520.4</text>
<text x="84.8" y="341.9" font-size="21" font-weight="normal" text-anchor="end" fill="#222" stroke="#222" stroke-width="0.3">520.5</text>
<text x="585.5" y="593" font-size="21" font-weight="normal" text-anchor="start" fill="#222" stroke="#222" stroke-width="0.3">4.2</text>
<text x="585.5" y="567.89" font-size="21" font-weight="normal" text-anchor="start" fill="#222" stroke="#222" stroke-width="0.3">4.3</text>
<text x="585.5" y="542.78" font-size="21" font-weight="normal" text-anchor="start" fill="#222" stroke="#222" stroke-width="0.3">4.4</text>
<text x="585.5" y="517.67" font-size="21" font-weight="normal" text-anchor="start" fill="#222" stroke="#222" stroke-width="0.3">4.5</text>
<text x="585.5" y="492.56" font-size="21" font-weight="normal" text-anchor="start" fill="#222" stroke="#222" stroke-width="0.3">4.6</text>
<text x="585.5" y="467.45" font-size="21" font-weight="normal" text-anchor="start" fill="#222" stroke="#222" stroke-width="0.3">4.7</text>
<text x="585.5" y="442.34" font-size="21" font-weight="normal" text-anchor="start" fill="#222" stroke="#222" stroke-width="0.3">4.8</text>
<text x="585.5" y="417.23" font-size="21" font-weight="normal" text-anchor="start" fill="#222" stroke="#222" stroke-width="0.3">4.9</text>
<text x="585.5" y="392.12" font-size="21" font-weight="normal" text-anchor="start" fill="#222" stroke="#222" stroke-width="0.3">5.0</text>
<text x="585.5" y="367.01" font-size="21" font-weight="normal" text-anchor="start" fill="#222" stroke="#222" stroke-width="0.3">5.1</text>
<text x="585.5" y="341.9" font-size="21" font-weight="normal" text-anchor="start" fill="#222" stroke="#222" stroke-width="0.3">5.2</text>
<text x="95.4" y="610.5" font-size="21.8" font-weight="normal" text-anchor="middle" fill="#222" stroke="#222" stroke-width="0.3">0</text>
<text x="218.08" y="610.5" font-size="21.8" font-weight="normal" text-anchor="middle" fill="#222" stroke="#222" stroke-width="0.3">90</text>
<text x="336.75" y="610.5" font-size="21.8" font-weight="normal" text-anchor="middle" fill="#222" stroke="#222" stroke-width="0.3">180</text>
<text x="454.93" y="610.5" font-size="21.8" font-weight="normal" text-anchor="middle" fill="#222" stroke="#222" stroke-width="0.3">270</text>
<text x="573.1" y="610.5" font-size="21.8" font-weight="normal" text-anchor="middle" fill="#222" stroke="#222" stroke-width="0.3">360</text>
<text x="108.5" y="359.6" font-size="21" font-weight="bold" text-anchor="start" fill="#1a1ac6" >488.0nm</text>
<text transform="translate(19.4,460.95) rotate(-90)" font-size="21.5" font-weight="bold" text-anchor="middle" fill="#111">Raman Shift (cm<tspan font-size="13" dy="-8">-1</tspan><tspan dy="8">)</tspan></text>
<text transform="translate(645.4,457.45) rotate(-90)" font-size="21.4" font-weight="bold" text-anchor="middle" fill="#111">FWHM (cm<tspan font-size="13" dy="-8">-1</tspan><tspan dy="8">)</tspan></text>
<path d="M215.58 619.1V867.4M334.75 619.1V867.4M453.93 619.1V867.4M96.4 668.76H573.1M96.4 718.42H573.1M96.4 768.08H573.1M96.4 817.74H573.1" stroke="#4a4a4a" stroke-width="1.7" fill="none"/>
<path d="M95.9 867.4V674.8H102.51V867.4ZM102.51 867.4V677.7H109.12V867.4ZM109.12 867.4V684H115.73V867.4ZM115.73 867.4V690.8H122.34V867.4ZM122.34 867.4V690.8H128.95V867.4ZM128.95 867.4V703.9H135.56V867.4ZM135.56 867.4V710.7H142.17V867.4ZM142.17 867.4V700H148.78V867.4ZM148.78 867.4V707.8H155.39V867.4ZM155.39 867.4V703.9H162V867.4ZM162 867.4V702.4H168.61V867.4ZM168.61 867.4V696.1H175.22V867.4ZM175.22 867.4V694.7H181.83V867.4ZM181.83 867.4V683.5H188.44V867.4ZM188.44 867.4V685.5H195.05V867.4ZM195.05 867.4V683.5H201.66V867.4ZM201.66 867.4V685.5H208.27V867.4ZM208.27 867.4V674.3H214.88V867.4ZM214.88 867.4V677.3H221.48V867.4ZM221.48 867.4V677.7H228.09V867.4ZM228.09 867.4V684H234.7V867.4ZM234.7 867.4V694.7H241.31V867.4ZM241.31 867.4V698.6H247.92V867.4ZM247.92 867.4V696.6H254.53V867.4ZM254.53 867.4V707.8H261.14V867.4ZM261.14 867.4V703.9H267.75V867.4ZM267.75 867.4V707.3H274.36V867.4ZM274.36 867.4V710.7H280.97V867.4ZM280.97 867.4V702H287.58V867.4ZM287.58 867.4V705.8H294.19V867.4ZM294.19 867.4V697.6H300.8V867.4ZM300.8 867.4V685.5H307.41V867.4ZM307.41 867.4V681.6H314.02V867.4ZM314.02 867.4V672.4H320.63V867.4ZM320.63 867.4V673.4H327.24V867.4ZM327.24 867.4V667.1H333.85V867.4ZM333.85 867.4V664.2H340.46V867.4ZM340.46 867.4V674.8H347.07V867.4ZM347.07 867.4V680.2H353.68V867.4ZM353.68 867.4V684H360.29V867.4ZM360.29 867.4V689.4H366.9V867.4ZM366.9 867.4V698.6H373.51V867.4ZM373.51 867.4V700H380.12V867.4ZM380.12 867.4V707.8H386.73V867.4ZM386.73 867.4V702.9H393.34V867.4ZM393.34 867.4V715H399.95V867.4ZM399.95 867.4V705.8H406.56V867.4ZM406.56 867.4V700.5H413.17V867.4ZM413.17 867.4V697.1H419.78V867.4ZM419.78 867.4V687.9H426.39V867.4ZM426.39 867.4V683.1H433V867.4ZM433 867.4V676.3H439.61V867.4ZM439.61 867.4V673.4H446.22V867.4ZM446.22 867.4V670.9H452.82V867.4ZM452.82 867.4V665.1H459.43V867.4ZM459.43 867.4V670.9H466.04V867.4ZM466.04 867.4V686.9H472.65V867.4ZM472.65 867.4V697.6H479.26V867.4ZM479.26 867.4V692.3H485.87V867.4ZM485.87 867.4V694.7H492.48V867.4ZM492.48 867.4V701.5H499.09V867.4ZM499.09 867.4V707.8H505.7V867.4ZM505.7 867.4V703.9H512.31V867.4ZM512.31 867.4V700H518.92V867.4ZM518.92 867.4V693.2H525.53V867.4ZM525.53 867.4V696.6H532.14V867.4ZM532.14 867.4V687.9H538.75V867.4ZM538.75 867.4V686.9H545.36V867.4ZM545.36 867.4V677.7H551.97V867.4ZM551.97 867.4V677.7H558.58V867.4ZM558.58 867.4V674.8H565.19V867.4ZM565.19 867.4V672.4H571.8V867.4Z" fill="#006c00"/>
<path d="M97.25 867.4V676.5H101.16V867.4ZM103.86 867.4V679.4H107.77V867.4ZM110.47 867.4V685.7H114.38V867.4ZM117.08 867.4V692.5H120.99V867.4ZM123.69 867.4V692.5H127.6V867.4ZM130.3 867.4V705.6H134.21V867.4ZM136.91 867.4V712.4H140.82V867.4ZM143.52 867.4V701.7H147.43V867.4ZM150.13 867.4V709.5H154.04V867.4ZM156.74 867.4V705.6H160.65V867.4ZM163.35 867.4V704.1H167.26V867.4ZM169.96 867.4V697.8H173.87V867.4ZM176.57 867.4V696.4H180.48V867.4ZM183.18 867.4V685.2H187.09V867.4ZM189.79 867.4V687.2H193.7V867.4ZM196.4 867.4V685.2H200.31V867.4ZM203.01 867.4V687.2H206.92V867.4ZM209.62 867.4V676H213.53V867.4ZM216.22 867.4V679H220.13V867.4ZM222.83 867.4V679.4H226.74V867.4ZM229.44 867.4V685.7H233.35V867.4ZM236.05 867.4V696.4H239.96V867.4ZM242.66 867.4V700.3H246.57V867.4ZM249.27 867.4V698.3H253.18V867.4ZM255.88 867.4V709.5H259.79V867.4ZM262.49 867.4V705.6H266.4V867.4ZM269.1 867.4V709H273.01V867.4ZM275.71 867.4V712.4H279.62V867.4ZM282.32 867.4V703.7H286.23V867.4ZM288.93 867.4V707.5H292.84V867.4ZM295.54 867.4V699.3H299.45V867.4ZM302.15 867.4V687.2H306.06V867.4ZM308.76 867.4V683.3H312.67V867.4ZM315.37 867.4V674.1H319.28V867.4ZM321.98 867.4V675.1H325.89V867.4ZM328.59 867.4V668.8H332.5V867.4ZM335.2 867.4V665.9H339.11V867.4ZM341.81 867.4V676.5H345.72V867.4ZM348.42 867.4V681.9H352.33V867.4ZM355.03 867.4V685.7H358.94V867.4ZM361.64 867.4V691.1H365.55V867.4ZM368.25 867.4V700.3H372.16V867.4ZM374.86 867.4V701.7H378.77V867.4ZM381.47 867.4V709.5H385.38V867.4ZM388.08 867.4V704.6H391.99V867.4ZM394.69 867.4V716.7H398.6V867.4ZM401.3 867.4V707.5H405.21V867.4ZM407.91 867.4V702.2H411.82V867.4ZM414.52 867.4V698.8H418.43V867.4ZM421.13 867.4V689.6H425.04V867.4ZM427.74 867.4V684.8H431.65V867.4ZM434.35 867.4V678H438.26V867.4ZM440.96 867.4V675.1H444.87V867.4ZM447.57 867.4V672.6H451.47V867.4ZM454.17 867.4V666.8H458.08V867.4ZM460.78 867.4V672.6H464.69V867.4ZM467.39 867.4V688.6H471.3V867.4ZM474 867.4V699.3H477.91V867.4ZM480.61 867.4V694H484.52V867.4ZM487.22 867.4V696.4H491.13V867.4ZM493.83 867.4V703.2H497.74V867.4ZM500.44 867.4V709.5H504.35V867.4ZM507.05 867.4V705.6H510.96V867.4ZM513.66 867.4V701.7H517.57V867.4ZM520.27 867.4V694.9H524.18V867.4ZM526.88 867.4V698.3H530.79V867.4ZM533.49 867.4V689.6H537.4V867.4ZM540.1 867.4V688.6H544.01V867.4ZM546.71 867.4V679.4H550.62V867.4ZM553.32 867.4V679.4H557.23V867.4ZM559.93 867.4V676.5H563.84V867.4ZM566.54 867.4V674.1H570.45V867.4Z" fill="#0af80a"/>
<path d="M95.9 867.4V847.8H102.51V867.4ZM102.51 867.4V832.8H109.12V867.4ZM109.12 867.4V841.5H115.73V867.4ZM115.73 867.4V837.2H122.34V867.4ZM122.34 867.4V831.8H128.95V867.4ZM128.95 867.4V828H135.56V867.4ZM135.56 867.4V815.8H142.17V867.4ZM142.17 867.4V814.9H148.78V867.4ZM148.78 867.4V821.6H155.39V867.4ZM155.39 867.4V824.1H162V867.4ZM162 867.4V821.2H168.61V867.4ZM168.61 867.4V824.6H175.22V867.4ZM175.22 867.4V825.5H181.83V867.4ZM181.83 867.4V824.1H188.44V867.4ZM188.44 867.4V832.8H195.05V867.4ZM195.05 867.4V835.7H201.66V867.4ZM201.66 867.4V839.6H208.27V867.4ZM208.27 867.4V831.8H214.88V867.4ZM214.88 867.4V840.5H221.48V867.4ZM221.48 867.4V844.9H228.09V867.4ZM228.09 867.4V829.4H234.7V867.4ZM234.7 867.4V831.8H241.31V867.4ZM241.31 867.4V831.8H247.92V867.4ZM247.92 867.4V830.9H254.53V867.4ZM254.53 867.4V825.5H261.14V867.4ZM261.14 867.4V834.7H267.75V867.4ZM267.75 867.4V821.2H274.36V867.4ZM274.36 867.4V826.5H280.97V867.4ZM280.97 867.4V817.3H287.58V867.4ZM287.58 867.4V817.3H294.19V867.4ZM294.19 867.4V821.6H300.8V867.4ZM300.8 867.4V828H307.41V867.4ZM307.41 867.4V833.3H314.02V867.4ZM314.02 867.4V837.6H320.63V867.4ZM320.63 867.4V824.1H327.24V867.4ZM327.24 867.4V831.3H333.85V867.4ZM333.85 867.4V832.3H340.46V867.4ZM340.46 867.4V836.2H347.07V867.4ZM347.07 867.4V842H353.68V867.4ZM353.68 867.4V826H360.29V867.4ZM360.29 867.4V823.1H366.9V867.4ZM366.9 867.4V828.4H373.51V867.4ZM373.51 867.4V833.8H380.12V867.4ZM380.12 867.4V826H386.73V867.4ZM386.73 867.4V817.8H393.34V867.4ZM393.34 867.4V833.3H399.95V867.4ZM399.95 867.4V828H406.56V867.4ZM406.56 867.4V827H413.17V867.4ZM413.17 867.4V831.8H419.78V867.4ZM419.78 867.4V829.4H426.39V867.4ZM426.39 867.4V828.4H433V867.4ZM433 867.4V831.8H439.61V867.4ZM439.61 867.4V843H446.22V867.4ZM446.22 867.4V847.8H452.82V867.4ZM452.82 867.4V842.5H459.43V867.4ZM459.43 867.4V834.2H466.04V867.4ZM466.04 867.4V830.9H472.65V867.4ZM472.65 867.4V818.7H479.26V867.4ZM479.26 867.4V831.8H485.87V867.4ZM485.87 867.4V828.4H492.48V867.4ZM492.48 867.4V831.8H499.09V867.4ZM499.09 867.4V831.8H505.7V867.4ZM505.7 867.4V823.1H512.31V867.4ZM512.31 867.4V821.6H518.92V867.4ZM518.92 867.4V813.4H525.53V867.4ZM525.53 867.4V816.3H532.14V867.4ZM532.14 867.4V826.5H538.75V867.4ZM538.75 867.4V825.5H545.36V867.4ZM545.36 867.4V815.8H551.97V867.4ZM551.97 867.4V824.1H558.58V867.4ZM558.58 867.4V837.6H565.19V867.4ZM565.19 867.4V832.8H571.8V867.4Z" fill="#78f064"/>
<path d="M97.2 867.4V847.8H101.21V867.4ZM103.81 867.4V832.8H107.82V867.4ZM110.42 867.4V841.5H114.43V867.4ZM117.03 867.4V837.2H121.04V867.4ZM123.64 867.4V831.8H127.65V867.4ZM130.25 867.4V828H134.26V867.4ZM136.86 867.4V815.8H140.87V867.4ZM143.47 867.4V814.9H147.48V867.4ZM150.08 867.4V821.6H154.09V867.4ZM156.69 867.4V824.1H160.7V867.4ZM163.3 867.4V821.2H167.31V867.4ZM169.91 867.4V824.6H173.92V867.4ZM176.52 867.4V825.5H180.53V867.4ZM183.13 867.4V824.1H187.14V867.4ZM189.74 867.4V832.8H193.75V867.4ZM196.35 867.4V835.7H200.36V867.4ZM202.96 867.4V839.6H206.97V867.4ZM209.57 867.4V831.8H213.57V867.4ZM216.18 867.4V840.5H220.18V867.4ZM222.78 867.4V844.9H226.79V867.4ZM229.39 867.4V829.4H233.4V867.4ZM236 867.4V831.8H240.01V867.4ZM242.61 867.4V831.8H246.62V867.4ZM249.22 867.4V830.9H253.23V867.4ZM255.83 867.4V825.5H259.84V867.4ZM262.44 867.4V834.7H266.45V867.4ZM269.05 867.4V821.2H273.06V867.4ZM275.66 867.4V826.5H279.67V867.4ZM282.27 867.4V817.3H286.28V867.4ZM288.88 867.4V817.3H292.89V867.4ZM295.49 867.4V821.6H299.5V867.4ZM302.1 867.4V828H306.11V867.4ZM308.71 867.4V833.3H312.72V867.4ZM315.32 867.4V837.6H319.33V867.4ZM321.93 867.4V824.1H325.94V867.4ZM328.54 867.4V831.3H332.55V867.4ZM335.15 867.4V832.3H339.16V867.4ZM341.76 867.4V836.2H345.77V867.4ZM348.37 867.4V842H352.38V867.4ZM354.98 867.4V826H358.99V867.4ZM361.59 867.4V823.1H365.6V867.4ZM368.2 867.4V828.4H372.21V867.4ZM374.81 867.4V833.8H378.82V867.4ZM381.42 867.4V826H385.43V867.4ZM388.03 867.4V817.8H392.04V867.4ZM394.64 867.4V833.3H398.65V867.4ZM401.25 867.4V828H405.26V867.4ZM407.86 867.4V827H411.87V867.4ZM414.47 867.4V831.8H418.48V867.4ZM421.08 867.4V829.4H425.09V867.4ZM427.69 867.4V828.4H431.7V867.4ZM434.3 867.4V831.8H438.31V867.4ZM440.91 867.4V843H444.92V867.4ZM447.52 867.4V847.8H451.52V867.4ZM454.12 867.4V842.5H458.13V867.4ZM460.73 867.4V834.2H464.74V867.4ZM467.34 867.4V830.9H471.35V867.4ZM473.95 867.4V818.7H477.96V867.4ZM480.56 867.4V831.8H484.57V867.4ZM487.17 867.4V828.4H491.18V867.4ZM493.78 867.4V831.8H497.79V867.4ZM500.39 867.4V831.8H504.4V867.4ZM507 867.4V823.1H511.01V867.4ZM513.61 867.4V821.6H517.62V867.4ZM520.22 867.4V813.4H524.23V867.4ZM526.83 867.4V816.3H530.84V867.4ZM533.44 867.4V826.5H537.45V867.4ZM540.05 867.4V825.5H544.06V867.4ZM546.66 867.4V815.8H550.67V867.4ZM553.27 867.4V824.1H557.28V867.4ZM559.88 867.4V837.6H563.89V867.4ZM566.49 867.4V832.8H570.5V867.4Z" fill="#ebffc8"/>
<rect x="300.1" y="736" width="71.5" height="25" fill="#fff"/>
<text x="335.85" y="756.1" font-size="21" font-weight="bold" text-anchor="middle" fill="#111" >Shift</text>
<rect x="291.2" y="839.1" width="93.8" height="27.3" fill="#fff"/>
<text x="338.1" y="860.1" font-size="21" font-weight="bold" text-anchor="middle" fill="#111" >FWHM</text>
<rect x="96.4" y="619.1" width="476.7" height="248.3" fill="none" stroke="#2e2e2e" stroke-width="2.0"/>
<path d="M90.9 619.1H101.4M91.9 629.03H96.4M91.9 638.96H96.4M91.9 648.9H96.4M91.9 658.83H96.4M90.9 668.76H101.4M91.9 678.69H96.4M91.9 688.62H96.4M91.9 698.56H96.4M91.9 708.49H96.4M90.9 718.42H101.4M91.9 728.35H96.4M91.9 738.28H96.4M91.9 748.22H96.4M91.9 758.15H96.4M90.9 768.08H101.4M91.9 778.01H96.4M91.9 787.94H96.4M91.9 797.88H96.4M91.9 807.81H96.4M90.9 817.74H101.4M91.9 827.67H96.4M91.9 837.6H96.4M91.9 847.54H96.4M91.9 857.47H96.4M90.9 867.4H101.4" stroke="#222" stroke-width="1.25" fill="none"/>
<path d="M568.1 619.1H578.6M573.1 624.07H577.6M573.1 629.03H577.6M573.1 634H577.6M573.1 638.96H577.6M568.1 643.93H578.6M573.1 648.9H577.6M573.1 653.86H577.6M573.1 658.83H577.6M573.1 663.79H577.6M568.1 668.76H578.6M573.1 673.73H577.6M573.1 678.69H577.6M573.1 683.66H577.6M573.1 688.62H577.6M568.1 693.59H578.6M573.1 698.56H577.6M573.1 703.52H577.6M573.1 708.49H577.6M573.1 713.45H577.6M568.1 718.42H578.6M573.1 723.39H577.6M573.1 728.35H577.6M573.1 733.32H577.6M573.1 738.28H577.6M568.1 743.25H578.6M573.1 748.22H577.6M573.1 753.18H577.6M573.1 758.15H577.6M573.1 763.11H577.6M568.1 768.08H578.6M573.1 773.05H577.6M573.1 778.01H577.6M573.1 782.98H577.6M573.1 787.94H577.6M568.1 792.91H578.6M573.1 797.88H577.6M573.1 802.84H577.6M573.1 807.81H577.6M573.1 812.77H577.6M568.1 817.74H578.6M573.1 822.71H577.6M573.1 827.67H577.6M573.1 832.64H577.6M573.1 837.6H577.6M568.1 842.57H578.6M573.1 847.54H577.6M573.1 852.5H577.6M573.1 857.47H577.6M573.1 862.43H577.6M568.1 867.4H578.6" stroke="#222" stroke-width="1.25" fill="none"/>
<path d="M96.4 867.4V872.9M215.58 867.4V872.9M334.75 867.4V872.9M453.93 867.4V872.9M573.1 867.4V872.9" stroke="#333" stroke-width="1.6" fill="none"/>
<text x="84.8" y="876.6" font-size="21" font-weight="normal" text-anchor="end" fill="#222" stroke="#222" stroke-width="0.3">520.0</text>
<text x="84.8" y="826.94" font-size="21" font-weight="normal" text-anchor="end" fill="#222" stroke="#222" stroke-width="0.3">520.1</text>
<text x="84.8" y="777.28" font-size="21" font-weight="normal" text-anchor="end" fill="#222" stroke="#222" stroke-width="0.3">520.2</text>
<text x="84.8" y="727.62" font-size="21" font-weight="normal" text-anchor="end" fill="#222" stroke="#222" stroke-width="0.3">520.3</text>
<text x="84.8" y="677.96" font-size="21" font-weight="normal" text-anchor="end" fill="#222" stroke="#222" stroke-width="0.3">520.4</text>
<text x="84.8" y="628.3" font-size="21" font-weight="normal" text-anchor="end" fill="#222" stroke="#222" stroke-width="0.3">520.5</text>
<text x="585.5" y="876.6" font-size="21" font-weight="normal" text-anchor="start" fill="#222" stroke="#222" stroke-width="0.3">4.2</text>
<text x="585.5" y="851.77" font-size="21" font-weight="normal" text-anchor="start" fill="#222" stroke="#222" stroke-width="0.3">4.3</text>
<text x="585.5" y="826.94" font-size="21" font-weight="normal" text-anchor="start" fill="#222" stroke="#222" stroke-width="0.3">4.4</text>
<text x="585.5" y="802.11" font-size="21" font-weight="normal" text-anchor="start" fill="#222" stroke="#222" stroke-width="0.3">4.5</text>
<text x="585.5" y="777.28" font-size="21" font-weight="normal" text-anchor="start" fill="#222" stroke="#222" stroke-width="0.3">4.6</text>
<text x="585.5" y="752.45" font-size="21" font-weight="normal" text-anchor="start" fill="#222" stroke="#222" stroke-width="0.3">4.7</text>
<text x="585.5" y="727.62" font-size="21" font-weight="normal" text-anchor="start" fill="#222" stroke="#222" stroke-width="0.3">4.8</text>
<text x="585.5" y="702.79" font-size="21" font-weight="normal" text-anchor="start" fill="#222" stroke="#222" stroke-width="0.3">4.9</text>
<text x="585.5" y="677.96" font-size="21" font-weight="normal" text-anchor="start" fill="#222" stroke="#222" stroke-width="0.3">5.0</text>
<text x="585.5" y="653.13" font-size="21" font-weight="normal" text-anchor="start" fill="#222" stroke="#222" stroke-width="0.3">5.1</text>
<text x="585.5" y="628.3" font-size="21" font-weight="normal" text-anchor="start" fill="#222" stroke="#222" stroke-width="0.3">5.2</text>
<text x="95.4" y="899.2" font-size="21.8" font-weight="normal" text-anchor="middle" fill="#222" stroke="#222" stroke-width="0.3">0</text>
<text x="218.08" y="899.2" font-size="21.8" font-weight="normal" text-anchor="middle" fill="#222" stroke="#222" stroke-width="0.3">90</text>
<text x="336.75" y="899.2" font-size="21.8" font-weight="normal" text-anchor="middle" fill="#222" stroke="#222" stroke-width="0.3">180</text>
<text x="454.93" y="899.2" font-size="21.8" font-weight="normal" text-anchor="middle" fill="#222" stroke="#222" stroke-width="0.3">270</text>
<text x="573.1" y="899.2" font-size="21.8" font-weight="normal" text-anchor="middle" fill="#222" stroke="#222" stroke-width="0.3">360</text>
<text x="108.5" y="643.4" font-size="21" font-weight="bold" text-anchor="start" fill="#1a1ac6" >514.5nm</text>
<text transform="translate(19.4,745.95) rotate(-90)" font-size="21.5" font-weight="bold" text-anchor="middle" fill="#111">Raman Shift (cm<tspan font-size="13" dy="-8">-1</tspan><tspan dy="8">)</tspan></text>
<text transform="translate(645.4,742.45) rotate(-90)" font-size="21.4" font-weight="bold" text-anchor="middle" fill="#111">FWHM (cm<tspan font-size="13" dy="-8">-1</tspan><tspan dy="8">)</tspan></text>
<path d="M895.17 50.3V298.8M1013.55 50.3V298.8M1131.92 50.3V298.8M776.8 100H1250.3M776.8 149.7H1250.3M776.8 199.4H1250.3M776.8 249.1H1250.3" stroke="#4a4a4a" stroke-width="1.7" fill="none"/>
<path d="M776.4 298.8V201.9H782.98V298.8ZM782.98 298.8V193.7H789.55V298.8ZM789.55 298.8V197.6H796.13V298.8ZM796.13 298.8V186.9H802.71V298.8ZM802.71 298.8V187.9H809.28V298.8ZM809.28 298.8V179.2H815.86V298.8ZM815.86 298.8V182.6H822.43V298.8ZM822.43 298.8V182.6H829.01V298.8ZM829.01 298.8V193.7H835.59V298.8ZM835.59 298.8V198.1H842.16V298.8ZM842.16 298.8V203.4H848.74V298.8ZM848.74 298.8V199H855.32V298.8ZM855.32 298.8V197.1H861.89V298.8ZM861.89 298.8V190.8H868.47V298.8ZM868.47 298.8V195.2H875.05V298.8ZM875.05 298.8V192.2H881.62V298.8ZM881.62 298.8V197.1H888.2V298.8ZM888.2 298.8V189.8H894.77V298.8ZM894.77 298.8V190.8H901.35V298.8ZM901.35 298.8V196.1H907.93V298.8ZM907.93 298.8V206.3H914.5V298.8ZM914.5 298.8V210.2H921.08V298.8ZM921.08 298.8V211.1H927.66V298.8ZM927.66 298.8V197.6H934.23V298.8ZM934.23 298.8V185.5H940.81V298.8ZM940.81 298.8V180.6H947.39V298.8ZM947.39 298.8V181.1H953.96V298.8ZM953.96 298.8V181.1H960.54V298.8ZM960.54 298.8V174.8H967.12V298.8ZM967.12 298.8V185.5H973.69V298.8ZM973.69 298.8V192.2H980.27V298.8ZM980.27 298.8V198.5H986.84V298.8ZM986.84 298.8V204.4H993.42V298.8ZM993.42 298.8V213.6H1000V298.8ZM1000 298.8V209.7H1006.57V298.8ZM1006.57 298.8V207.7H1013.15V298.8ZM1013.15 298.8V206.8H1019.73V298.8ZM1019.73 298.8V202.9H1026.3V298.8ZM1026.3 298.8V202.9H1032.88V298.8ZM1032.88 298.8V196.1H1039.46V298.8ZM1039.46 298.8V190.8H1046.03V298.8ZM1046.03 298.8V185.5H1052.61V298.8ZM1052.61 298.8V182.6H1059.18V298.8ZM1059.18 298.8V182.6H1065.76V298.8ZM1065.76 298.8V186.4H1072.34V298.8ZM1072.34 298.8V191.3H1078.91V298.8ZM1078.91 298.8V186.4H1085.49V298.8ZM1085.49 298.8V202.4H1092.07V298.8ZM1092.07 298.8V210.7H1098.64V298.8ZM1098.64 298.8V202.4H1105.22V298.8ZM1105.22 298.8V199.5H1111.8V298.8ZM1111.8 298.8V203.4H1118.37V298.8ZM1118.37 298.8V202.4H1124.95V298.8ZM1124.95 298.8V188.4H1131.53V298.8ZM1131.53 298.8V195.6H1138.1V298.8ZM1138.1 298.8V195.6H1144.68V298.8ZM1144.68 298.8V186.9H1151.25V298.8ZM1151.25 298.8V187.9H1157.83V298.8ZM1157.83 298.8V180.1H1164.41V298.8ZM1164.41 298.8V195.2H1170.98V298.8ZM1170.98 298.8V202.4H1177.56V298.8ZM1177.56 298.8V206.8H1184.14V298.8ZM1184.14 298.8V199H1190.71V298.8ZM1190.71 298.8V197.1H1197.29V298.8ZM1197.29 298.8V197.1H1203.87V298.8ZM1203.87 298.8V190.8H1210.44V298.8ZM1210.44 298.8V193.7H1217.02V298.8ZM1217.02 298.8V207.7H1223.59V298.8ZM1223.59 298.8V193.7H1230.17V298.8ZM1230.17 298.8V190.8H1236.75V298.8ZM1236.75 298.8V184.5H1243.32V298.8ZM1243.32 298.8V180.6H1249.9V298.8Z" fill="#00002a"/>
<path d="M777.55 298.8V203.6H781.83V298.8ZM784.13 298.8V195.4H788.4V298.8ZM790.7 298.8V199.3H794.98V298.8ZM797.28 298.8V188.6H801.56V298.8ZM803.86 298.8V189.6H808.13V298.8ZM810.43 298.8V180.9H814.71V298.8ZM817.01 298.8V184.3H821.28V298.8ZM823.58 298.8V184.3H827.86V298.8ZM830.16 298.8V195.4H834.44V298.8ZM836.74 298.8V199.8H841.01V298.8ZM843.31 298.8V205.1H847.59V298.8ZM849.89 298.8V200.7H854.17V298.8ZM856.47 298.8V198.8H860.74V298.8ZM863.04 298.8V192.5H867.32V298.8ZM869.62 298.8V196.9H873.9V298.8ZM876.2 298.8V193.9H880.47V298.8ZM882.77 298.8V198.8H887.05V298.8ZM889.35 298.8V191.5H893.62V298.8ZM895.92 298.8V192.5H900.2V298.8ZM902.5 298.8V197.8H906.78V298.8ZM909.08 298.8V208H913.35V298.8ZM915.65 298.8V211.9H919.93V298.8ZM922.23 298.8V212.8H926.51V298.8ZM928.81 298.8V199.3H933.08V298.8ZM935.38 298.8V187.2H939.66V298.8ZM941.96 298.8V182.3H946.24V298.8ZM948.54 298.8V182.8H952.81V298.8ZM955.11 298.8V182.8H959.39V298.8ZM961.69 298.8V176.5H965.97V298.8ZM968.27 298.8V187.2H972.54V298.8ZM974.84 298.8V193.9H979.12V298.8ZM981.42 298.8V200.2H985.69V298.8ZM987.99 298.8V206.1H992.27V298.8ZM994.57 298.8V215.3H998.85V298.8ZM1001.15 298.8V211.4H1005.42V298.8ZM1007.72 298.8V209.4H1012V298.8ZM1014.3 298.8V208.5H1018.58V298.8ZM1020.88 298.8V204.6H1025.15V298.8ZM1027.45 298.8V204.6H1031.73V298.8ZM1034.03 298.8V197.8H1038.31V298.8ZM1040.61 298.8V192.5H1044.88V298.8ZM1047.18 298.8V187.2H1051.46V298.8ZM1053.76 298.8V184.3H1058.03V298.8ZM1060.33 298.8V184.3H1064.61V298.8ZM1066.91 298.8V188.1H1071.19V298.8ZM1073.49 298.8V193H1077.76V298.8ZM1080.06 298.8V188.1H1084.34V298.8ZM1086.64 298.8V204.1H1090.92V298.8ZM1093.22 298.8V212.4H1097.49V298.8ZM1099.79 298.8V204.1H1104.07V298.8ZM1106.37 298.8V201.2H1110.65V298.8ZM1112.95 298.8V205.1H1117.22V298.8ZM1119.52 298.8V204.1H1123.8V298.8ZM1126.1 298.8V190.1H1130.38V298.8ZM1132.68 298.8V197.3H1136.95V298.8ZM1139.25 298.8V197.3H1143.53V298.8ZM1145.83 298.8V188.6H1150.1V298.8ZM1152.4 298.8V189.6H1156.68V298.8ZM1158.98 298.8V181.8H1163.26V298.8ZM1165.56 298.8V196.9H1169.83V298.8ZM1172.13 298.8V204.1H1176.41V298.8ZM1178.71 298.8V208.5H1182.99V298.8ZM1185.29 298.8V200.7H1189.56V298.8ZM1191.86 298.8V198.8H1196.14V298.8ZM1198.44 298.8V198.8H1202.72V298.8ZM1205.02 298.8V192.5H1209.29V298.8ZM1211.59 298.8V195.4H1215.87V298.8ZM1218.17 298.8V209.4H1222.44V298.8ZM1224.74 298.8V195.4H1229.02V298.8ZM1231.32 298.8V192.5H1235.6V298.8ZM1237.9 298.8V186.2H1242.17V298.8ZM1244.47 298.8V182.3H1248.75V298.8Z" fill="#000084"/>
<rect x="957.6" y="238.5" width="112.5" height="25.8" fill="#fff"/>
<text x="1013.85" y="259" font-size="21" font-weight="bold" text-anchor="middle" fill="#111" >Intensity</text>
<rect x="776.8" y="50.3" width="473.5" height="248.5" fill="none" stroke="#2e2e2e" stroke-width="2.0"/>
<path d="M771.3 50.3H781.8M772.3 60.24H776.8M772.3 70.18H776.8M772.3 80.12H776.8M772.3 90.06H776.8M771.3 100H781.8M772.3 109.94H776.8M772.3 119.88H776.8M772.3 129.82H776.8M772.3 139.76H776.8M771.3 149.7H781.8M772.3 159.64H776.8M772.3 169.58H776.8M772.3 179.52H776.8M772.3 189.46H776.8M771.3 199.4H781.8M772.3 209.34H776.8M772.3 219.28H776.8M772.3 229.22H776.8M772.3 239.16H776.8M771.3 249.1H781.8M772.3 259.04H776.8M772.3 268.98H776.8M772.3 278.92H776.8M772.3 288.86H776.8M771.3 298.8H781.8" stroke="#222" stroke-width="1.25" fill="none"/>
<path d="M776.8 298.8V304.3M895.17 298.8V304.3M1013.55 298.8V304.3M1131.92 298.8V304.3M1250.3 298.8V304.3" stroke="#333" stroke-width="1.6" fill="none"/>
<text x="764.6" y="308.2" font-size="21" font-weight="normal" text-anchor="end" fill="#222" stroke="#222" stroke-width="0.3">4000</text>
<text x="764.6" y="258.5" font-size="21" font-weight="normal" text-anchor="end" fill="#222" stroke="#222" stroke-width="0.3">5000</text>
<text x="764.6" y="208.8" font-size="21" font-weight="normal" text-anchor="end" fill="#222" stroke="#222" stroke-width="0.3">6000</text>
<text x="764.6" y="159.1" font-size="21" font-weight="normal" text-anchor="end" fill="#222" stroke="#222" stroke-width="0.3">7000</text>
<text x="764.6" y="109.4" font-size="21" font-weight="normal" text-anchor="end" fill="#222" stroke="#222" stroke-width="0.3">8000</text>
<text x="764.6" y="59.7" font-size="21" font-weight="normal" text-anchor="end" fill="#222" stroke="#222" stroke-width="0.3">9000</text>
<text x="780.5" y="324.2" font-size="21.8" font-weight="normal" text-anchor="middle" fill="#222" stroke="#222" stroke-width="0.3">0</text>
<text x="903.67" y="324.2" font-size="21.8" font-weight="normal" text-anchor="middle" fill="#222" stroke="#222" stroke-width="0.3">90</text>
<text x="1022.05" y="324.2" font-size="21.8" font-weight="normal" text-anchor="middle" fill="#222" stroke="#222" stroke-width="0.3">180</text>
<text x="1140.42" y="324.2" font-size="21.8" font-weight="normal" text-anchor="middle" fill="#222" stroke="#222" stroke-width="0.3">270</text>
<text x="1258.8" y="324.2" font-size="21.8" font-weight="normal" text-anchor="middle" fill="#222" stroke="#222" stroke-width="0.3">360</text>
<text x="791.5" y="78" font-size="21" font-weight="bold" text-anchor="start" fill="#1a1ac6" >457.9nm</text>
<text transform="translate(703.3,175.05) rotate(-90)" font-size="21.4" font-weight="bold" text-anchor="middle" fill="#111">Intensity (Counts)</text>
<path d="M895.92 333V581.3M1014.05 333V581.3M1132.17 333V581.3M777.8 382.66H1250.3M777.8 432.32H1250.3M777.8 481.98H1250.3M777.8 531.64H1250.3" stroke="#4a4a4a" stroke-width="1.7" fill="none"/>
<path d="M777.6 581.3V508H784.16V581.3ZM784.16 581.3V495.3H790.72V581.3ZM790.72 581.3V491.5H797.27V581.3ZM797.27 581.3V480.3H803.83V581.3ZM803.83 581.3V464.5H810.39V581.3ZM810.39 581.3V442.8H816.95V581.3ZM816.95 581.3V417.3H823.51V581.3ZM823.51 581.3V417.3H830.07V581.3ZM830.07 581.3V413.5H836.62V581.3ZM836.62 581.3V409.8H843.18V581.3ZM843.18 581.3V422.5H849.74V581.3ZM849.74 581.3V429.3H856.3V581.3ZM856.3 581.3V432.3H862.86V581.3ZM862.86 581.3V451.8H869.42V581.3ZM869.42 581.3V471.3H875.98V581.3ZM875.98 581.3V477.3H882.53V581.3ZM882.53 581.3V497.5H889.09V581.3ZM889.09 581.3V499H895.65V581.3ZM895.65 581.3V504.3H902.21V581.3ZM902.21 581.3V501.3H908.77V581.3ZM908.77 581.3V500.5H915.32V581.3ZM915.33 581.3V487.8H921.88V581.3ZM921.88 581.3V469.8H928.44V581.3ZM928.44 581.3V444.3H935V581.3ZM935 581.3V424H941.56V581.3ZM941.56 581.3V415H948.12V581.3ZM948.12 581.3V400H954.67V581.3ZM954.67 581.3V397.8H961.23V581.3ZM961.23 581.3V406.8H967.79V581.3ZM967.79 581.3V412H974.35V581.3ZM974.35 581.3V436.8H980.91V581.3ZM980.91 581.3V463H987.47V581.3ZM987.47 581.3V477.3H994.02V581.3ZM994.02 581.3V489.3H1000.58V581.3ZM1000.58 581.3V499H1007.14V581.3ZM1007.14 581.3V508H1013.7V581.3ZM1013.7 581.3V509.5H1020.26V581.3ZM1020.26 581.3V501.3H1026.82V581.3ZM1026.82 581.3V495.3H1033.38V581.3ZM1033.38 581.3V478.8H1039.93V581.3ZM1039.93 581.3V461.5H1046.49V581.3ZM1046.49 581.3V442H1053.05V581.3ZM1053.05 581.3V429.3H1059.61V581.3ZM1059.61 581.3V418.8H1066.17V581.3ZM1066.17 581.3V409H1072.73V581.3ZM1072.72 581.3V403.8H1079.28V581.3ZM1079.28 581.3V412.8H1085.84V581.3ZM1085.84 581.3V427.8H1092.4V581.3ZM1092.4 581.3V446.5H1098.96V581.3ZM1098.96 581.3V457H1105.52V581.3ZM1105.52 581.3V469.8H1112.08V581.3ZM1112.08 581.3V481.8H1118.63V581.3ZM1118.63 581.3V496H1125.19V581.3ZM1125.19 581.3V497.5H1131.75V581.3ZM1131.75 581.3V502.7H1138.31V581.3ZM1138.31 581.3V497.5H1144.87V581.3ZM1144.87 581.3V487.8H1151.43V581.3ZM1151.42 581.3V472H1157.98V581.3ZM1157.98 581.3V452.5H1164.54V581.3ZM1164.54 581.3V447.3H1171.1V581.3ZM1171.1 581.3V442H1177.66V581.3ZM1177.66 581.3V431.5H1184.22V581.3ZM1184.22 581.3V412.8H1190.78V581.3ZM1190.78 581.3V415H1197.33V581.3ZM1197.33 581.3V407.5H1203.89V581.3ZM1203.89 581.3V423.3H1210.45V581.3ZM1210.45 581.3V432.3H1217.01V581.3ZM1217.01 581.3V456.3H1223.57V581.3ZM1223.57 581.3V463H1230.12V581.3ZM1230.12 581.3V482.5H1236.68V581.3ZM1236.68 581.3V487H1243.24V581.3ZM1243.24 581.3V492.3H1249.8V581.3Z" fill="#004c70"/>
<path d="M778.75 581.3V509.7H783.01V581.3ZM785.31 581.3V497H789.57V581.3ZM791.87 581.3V493.2H796.12V581.3ZM798.42 581.3V482H802.68V581.3ZM804.98 581.3V466.2H809.24V581.3ZM811.54 581.3V444.5H815.8V581.3ZM818.1 581.3V419H822.36V581.3ZM824.66 581.3V419H828.92V581.3ZM831.22 581.3V415.2H835.48V581.3ZM837.77 581.3V411.5H842.03V581.3ZM844.33 581.3V424.2H848.59V581.3ZM850.89 581.3V431H855.15V581.3ZM857.45 581.3V434H861.71V581.3ZM864.01 581.3V453.5H868.27V581.3ZM870.57 581.3V473H874.83V581.3ZM877.12 581.3V479H881.38V581.3ZM883.68 581.3V499.2H887.94V581.3ZM890.24 581.3V500.7H894.5V581.3ZM896.8 581.3V506H901.06V581.3ZM903.36 581.3V503H907.62V581.3ZM909.92 581.3V502.2H914.17V581.3ZM916.48 581.3V489.5H920.73V581.3ZM923.03 581.3V471.5H927.29V581.3ZM929.59 581.3V446H933.85V581.3ZM936.15 581.3V425.7H940.41V581.3ZM942.71 581.3V416.7H946.97V581.3ZM949.27 581.3V401.7H953.52V581.3ZM955.82 581.3V399.5H960.08V581.3ZM962.38 581.3V408.5H966.64V581.3ZM968.94 581.3V413.7H973.2V581.3ZM975.5 581.3V438.5H979.76V581.3ZM982.06 581.3V464.7H986.32V581.3ZM988.62 581.3V479H992.88V581.3ZM995.17 581.3V491H999.43V581.3ZM1001.73 581.3V500.7H1005.99V581.3ZM1008.29 581.3V509.7H1012.55V581.3ZM1014.85 581.3V511.2H1019.11V581.3ZM1021.41 581.3V503H1025.67V581.3ZM1027.97 581.3V497H1032.22V581.3ZM1034.53 581.3V480.5H1038.78V581.3ZM1041.08 581.3V463.2H1045.34V581.3ZM1047.64 581.3V443.7H1051.9V581.3ZM1054.2 581.3V431H1058.46V581.3ZM1060.76 581.3V420.5H1065.02V581.3ZM1067.32 581.3V410.7H1071.58V581.3ZM1073.88 581.3V405.5H1078.13V581.3ZM1080.43 581.3V414.5H1084.69V581.3ZM1086.99 581.3V429.5H1091.25V581.3ZM1093.55 581.3V448.2H1097.81V581.3ZM1100.11 581.3V458.7H1104.37V581.3ZM1106.67 581.3V471.5H1110.92V581.3ZM1113.23 581.3V483.5H1117.48V581.3ZM1119.78 581.3V497.7H1124.04V581.3ZM1126.34 581.3V499.2H1130.6V581.3ZM1132.9 581.3V504.4H1137.16V581.3ZM1139.46 581.3V499.2H1143.72V581.3ZM1146.02 581.3V489.5H1150.28V581.3ZM1152.58 581.3V473.7H1156.83V581.3ZM1159.13 581.3V454.2H1163.39V581.3ZM1165.69 581.3V449H1169.95V581.3ZM1172.25 581.3V443.7H1176.51V581.3ZM1178.81 581.3V433.2H1183.07V581.3ZM1185.37 581.3V414.5H1189.62V581.3ZM1191.93 581.3V416.7H1196.18V581.3ZM1198.48 581.3V409.2H1202.74V581.3ZM1205.04 581.3V425H1209.3V581.3ZM1211.6 581.3V434H1215.86V581.3ZM1218.16 581.3V458H1222.42V581.3ZM1224.72 581.3V464.7H1228.97V581.3ZM1231.28 581.3V484.2H1235.53V581.3ZM1237.83 581.3V488.7H1242.09V581.3ZM1244.39 581.3V494H1248.65V581.3Z" fill="#12c6ee"/>
<rect x="956.4" y="540.2" width="111.9" height="25.8" fill="#fff"/>
<text x="1012.35" y="560.2" font-size="21" font-weight="bold" text-anchor="middle" fill="#111" >Intensity</text>
<rect x="777.8" y="333" width="472.5" height="248.3" fill="none" stroke="#2e2e2e" stroke-width="2.0"/>
<path d="M772.3 333H782.8M773.3 342.93H777.8M773.3 352.86H777.8M773.3 362.8H777.8M773.3 372.73H777.8M772.3 382.66H782.8M773.3 392.59H777.8M773.3 402.52H777.8M773.3 412.46H777.8M773.3 422.39H777.8M772.3 432.32H782.8M773.3 442.25H777.8M773.3 452.18H777.8M773.3 462.12H777.8M773.3 472.05H777.8M772.3 481.98H782.8M773.3 491.91H777.8M773.3 501.84H777.8M773.3 511.78H777.8M773.3 521.71H777.8M772.3 531.64H782.8M773.3 541.57H777.8M773.3 551.5H777.8M773.3 561.44H777.8M773.3 571.37H777.8M772.3 581.3H782.8" stroke="#222" stroke-width="1.25" fill="none"/>
<path d="M777.8 581.3V586.8M895.92 581.3V586.8M1014.05 581.3V586.8M1132.17 581.3V586.8M1250.3 581.3V586.8" stroke="#333" stroke-width="1.6" fill="none"/>
<text x="764.6" y="590.7" font-size="21" font-weight="normal" text-anchor="end" fill="#222" stroke="#222" stroke-width="0.3">4000</text>
<text x="764.6" y="541.04" font-size="21" font-weight="normal" text-anchor="end" fill="#222" stroke="#222" stroke-width="0.3">5000</text>
<text x="764.6" y="491.38" font-size="21" font-weight="normal" text-anchor="end" fill="#222" stroke="#222" stroke-width="0.3">6000</text>
<text x="764.6" y="441.72" font-size="21" font-weight="normal" text-anchor="end" fill="#222" stroke="#222" stroke-width="0.3">7000</text>
<text x="764.6" y="392.06" font-size="21" font-weight="normal" text-anchor="end" fill="#222" stroke="#222" stroke-width="0.3">8000</text>
<text x="764.6" y="342.4" font-size="21" font-weight="normal" text-anchor="end" fill="#222" stroke="#222" stroke-width="0.3">9000</text>
<text x="781.5" y="610.3" font-size="21.8" font-weight="normal" text-anchor="middle" fill="#222" stroke="#222" stroke-width="0.3">0</text>
<text x="904.42" y="610.3" font-size="21.8" font-weight="normal" text-anchor="middle" fill="#222" stroke="#222" stroke-width="0.3">90</text>
<text x="1022.55" y="610.3" font-size="21.8" font-weight="normal" text-anchor="middle" fill="#222" stroke="#222" stroke-width="0.3">180</text>
<text x="1140.67" y="610.3" font-size="21.8" font-weight="normal" text-anchor="middle" fill="#222" stroke="#222" stroke-width="0.3">270</text>
<text x="1258.8" y="610.3" font-size="21.8" font-weight="normal" text-anchor="middle" fill="#222" stroke="#222" stroke-width="0.3">360</text>
<text x="791.5" y="362.7" font-size="21" font-weight="bold" text-anchor="start" fill="#1a1ac6" >488.0nm</text>
<text transform="translate(703.3,457.65) rotate(-90)" font-size="21.4" font-weight="bold" text-anchor="middle" fill="#111">Intensity (Counts)</text>
<path d="M895.92 619.3V867.3M1014.05 619.3V867.3M1132.17 619.3V867.3M777.8 668.9H1250.3M777.8 718.5H1250.3M777.8 768.1H1250.3M777.8 817.7H1250.3" stroke="#4a4a4a" stroke-width="1.7" fill="none"/>
<path d="M777.6 867.3V803.5H784.16V867.3ZM784.16 867.3V793.8H790.72V867.3ZM790.72 867.3V784.2H797.27V867.3ZM797.27 867.3V758.5H803.83V867.3ZM803.83 867.3V730.6H810.39V867.3ZM810.39 867.3V699.6H816.95V867.3ZM816.95 867.3V651H823.51V867.3ZM823.51 867.3V657.8H830.07V867.3ZM830.07 867.3V668.6H836.62V867.3ZM836.62 867.3V653.6H843.18V867.3ZM843.18 867.3V668.6H849.74V867.3ZM849.74 867.3V682.5H856.3V867.3ZM856.3 867.3V695.3H862.86V867.3ZM862.86 867.3V714.6H869.42V867.3ZM869.42 867.3V748.8H875.98V867.3ZM875.98 867.3V756.3H882.53V867.3ZM882.53 867.3V781H889.09V867.3ZM889.09 867.3V785.3H895.65V867.3ZM895.65 867.3V794.9H902.21V867.3ZM902.21 867.3V800.3H908.77V867.3ZM908.77 867.3V790.6H915.32V867.3ZM915.33 867.3V776.7H921.88V867.3ZM921.88 867.3V746.7H928.44V867.3ZM928.44 867.3V709.3H935V867.3ZM935 867.3V670.7H941.56V867.3ZM941.56 867.3V658.9H948.12V867.3ZM948.12 867.3V635.4H954.67V867.3ZM954.67 867.3V628.3H961.23V867.3ZM961.23 867.3V648.2H967.79V867.3ZM967.79 867.3V663.2H974.35V867.3ZM974.35 867.3V695.3H980.91V867.3ZM980.91 867.3V737.1H987.47V867.3ZM987.47 867.3V761.7H994.02V867.3ZM994.02 867.3V789.5H1000.58V867.3ZM1000.58 867.3V791.7H1007.14V867.3ZM1007.14 867.3V801.3H1013.7V867.3ZM1013.7 867.3V808.8H1020.26V867.3ZM1020.26 867.3V803.5H1026.82V867.3ZM1026.82 867.3V776.7H1033.38V867.3ZM1033.38 867.3V756.3H1039.93V867.3ZM1039.93 867.3V727.4H1046.49V867.3ZM1046.49 867.3V706H1053.05V867.3ZM1053.05 867.3V675H1059.61V867.3ZM1059.61 867.3V653.6H1066.17V867.3ZM1066.17 867.3V639.6H1072.73V867.3ZM1072.72 867.3V647.1H1079.28V867.3ZM1079.28 867.3V668.6H1085.84V867.3ZM1085.84 867.3V687.8H1092.4V867.3ZM1092.4 867.3V707.1H1098.96V867.3ZM1098.96 867.3V730.6H1105.52V867.3ZM1105.52 867.3V746.7H1112.08V867.3ZM1112.08 867.3V776.7H1118.63V867.3ZM1118.63 867.3V791.7H1125.19V867.3ZM1125.19 867.3V789.5H1131.75V867.3ZM1131.75 867.3V800.3H1138.31V867.3ZM1138.31 867.3V796H1144.87V867.3ZM1144.87 867.3V771.3H1151.43V867.3ZM1151.42 867.3V744.6H1157.98V867.3ZM1157.98 867.3V723.2H1164.54V867.3ZM1164.54 867.3V713.5H1171.1V867.3ZM1171.1 867.3V692.1H1177.66V867.3ZM1177.66 867.3V688.9H1184.22V867.3ZM1184.22 867.3V646.1H1190.78V867.3ZM1190.78 867.3V655.7H1197.33V867.3ZM1197.33 867.3V655.7H1203.89V867.3ZM1203.89 867.3V665.3H1210.45V867.3ZM1210.45 867.3V696.4H1217.01V867.3ZM1217.01 867.3V713.5H1223.57V867.3ZM1223.57 867.3V738.1H1230.12V867.3ZM1230.12 867.3V769.2H1236.68V867.3ZM1236.68 867.3V774.5H1243.24V867.3ZM1243.24 867.3V782H1249.8V867.3Z" fill="#006000"/>
<path d="M778.9 867.3V805.2H782.86V867.3ZM785.46 867.3V795.5H789.42V867.3ZM792.02 867.3V785.9H795.98V867.3ZM798.57 867.3V760.2H802.53V867.3ZM805.13 867.3V732.3H809.09V867.3ZM811.69 867.3V701.3H815.65V867.3ZM818.25 867.3V652.7H822.21V867.3ZM824.81 867.3V659.5H828.77V867.3ZM831.37 867.3V670.3H835.33V867.3ZM837.92 867.3V655.3H841.88V867.3ZM844.48 867.3V670.3H848.44V867.3ZM851.04 867.3V684.2H855V867.3ZM857.6 867.3V697H861.56V867.3ZM864.16 867.3V716.3H868.12V867.3ZM870.72 867.3V750.5H874.68V867.3ZM877.27 867.3V758H881.23V867.3ZM883.83 867.3V782.7H887.79V867.3ZM890.39 867.3V787H894.35V867.3ZM896.95 867.3V796.6H900.91V867.3ZM903.51 867.3V802H907.47V867.3ZM910.07 867.3V792.3H914.02V867.3ZM916.62 867.3V778.4H920.58V867.3ZM923.18 867.3V748.4H927.14V867.3ZM929.74 867.3V711H933.7V867.3ZM936.3 867.3V672.4H940.26V867.3ZM942.86 867.3V660.6H946.82V867.3ZM949.42 867.3V637.1H953.38V867.3ZM955.97 867.3V630H959.93V867.3ZM962.53 867.3V649.9H966.49V867.3ZM969.09 867.3V664.9H973.05V867.3ZM975.65 867.3V697H979.61V867.3ZM982.21 867.3V738.8H986.17V867.3ZM988.77 867.3V763.4H992.73V867.3ZM995.32 867.3V791.2H999.28V867.3ZM1001.88 867.3V793.4H1005.84V867.3ZM1008.44 867.3V803H1012.4V867.3ZM1015 867.3V810.5H1018.96V867.3ZM1021.56 867.3V805.2H1025.52V867.3ZM1028.12 867.3V778.4H1032.08V867.3ZM1034.67 867.3V758H1038.63V867.3ZM1041.23 867.3V729.1H1045.19V867.3ZM1047.79 867.3V707.7H1051.75V867.3ZM1054.35 867.3V676.7H1058.31V867.3ZM1060.91 867.3V655.3H1064.87V867.3ZM1067.47 867.3V641.3H1071.43V867.3ZM1074.02 867.3V648.8H1077.98V867.3ZM1080.58 867.3V670.3H1084.54V867.3ZM1087.14 867.3V689.5H1091.1V867.3ZM1093.7 867.3V708.8H1097.66V867.3ZM1100.26 867.3V732.3H1104.22V867.3ZM1106.82 867.3V748.4H1110.78V867.3ZM1113.38 867.3V778.4H1117.33V867.3ZM1119.93 867.3V793.4H1123.89V867.3ZM1126.49 867.3V791.2H1130.45V867.3ZM1133.05 867.3V802H1137.01V867.3ZM1139.61 867.3V797.7H1143.57V867.3ZM1146.17 867.3V773H1150.13V867.3ZM1152.72 867.3V746.3H1156.68V867.3ZM1159.28 867.3V724.9H1163.24V867.3ZM1165.84 867.3V715.2H1169.8V867.3ZM1172.4 867.3V693.8H1176.36V867.3ZM1178.96 867.3V690.6H1182.92V867.3ZM1185.52 867.3V647.8H1189.48V867.3ZM1192.08 867.3V657.4H1196.03V867.3ZM1198.63 867.3V657.4H1202.59V867.3ZM1205.19 867.3V667H1209.15V867.3ZM1211.75 867.3V698.1H1215.71V867.3ZM1218.31 867.3V715.2H1222.27V867.3ZM1224.87 867.3V739.8H1228.83V867.3ZM1231.42 867.3V770.9H1235.38V867.3ZM1237.98 867.3V776.2H1241.94V867.3ZM1244.54 867.3V783.7H1248.5V867.3Z" fill="#0af80a"/>
<rect x="957.6" y="835.5" width="111.9" height="25.2" fill="#fff"/>
<text x="1013.55" y="855.4" font-size="21" font-weight="bold" text-anchor="middle" fill="#111" >Intensity</text>
<rect x="777.8" y="619.3" width="472.5" height="248" fill="none" stroke="#2e2e2e" stroke-width="2.0"/>
<path d="M772.3 619.3H782.8M773.3 629.22H777.8M773.3 639.14H777.8M773.3 649.06H777.8M773.3 658.98H777.8M772.3 668.9H782.8M773.3 678.82H777.8M773.3 688.74H777.8M773.3 698.66H777.8M773.3 708.58H777.8M772.3 718.5H782.8M773.3 728.42H777.8M773.3 738.34H777.8M773.3 748.26H777.8M773.3 758.18H777.8M772.3 768.1H782.8M773.3 778.02H777.8M773.3 787.94H777.8M773.3 797.86H777.8M773.3 807.78H777.8M772.3 817.7H782.8M773.3 827.62H777.8M773.3 837.54H777.8M773.3 847.46H777.8M773.3 857.38H777.8M772.3 867.3H782.8" stroke="#222" stroke-width="1.25" fill="none"/>
<path d="M777.8 867.3V872.8M895.92 867.3V872.8M1014.05 867.3V872.8M1132.17 867.3V872.8M1250.3 867.3V872.8" stroke="#333" stroke-width="1.6" fill="none"/>
<text x="764.6" y="876.7" font-size="21" font-weight="normal" text-anchor="end" fill="#222" stroke="#222" stroke-width="0.3">4000</text>
<text x="764.6" y="827.1" font-size="21" font-weight="normal" text-anchor="end" fill="#222" stroke="#222" stroke-width="0.3">5000</text>
<text x="764.6" y="777.5" font-size="21" font-weight="normal" text-anchor="end" fill="#222" stroke="#222" stroke-width="0.3">6000</text>
<text x="764.6" y="727.9" font-size="21" font-weight="normal" text-anchor="end" fill="#222" stroke="#222" stroke-width="0.3">7000</text>
<text x="764.6" y="678.3" font-size="21" font-weight="normal" text-anchor="end" fill="#222" stroke="#222" stroke-width="0.3">8000</text>
<text x="764.6" y="628.7" font-size="21" font-weight="normal" text-anchor="end" fill="#222" stroke="#222" stroke-width="0.3">9000</text>
<text x="781.5" y="899.2" font-size="21.8" font-weight="normal" text-anchor="middle" fill="#222" stroke="#222" stroke-width="0.3">0</text>
<text x="904.42" y="899.2" font-size="21.8" font-weight="normal" text-anchor="middle" fill="#222" stroke="#222" stroke-width="0.3">90</text>
<text x="1022.55" y="899.2" font-size="21.8" font-weight="normal" text-anchor="middle" fill="#222" stroke="#222" stroke-width="0.3">180</text>
<text x="1140.67" y="899.2" font-size="21.8" font-weight="normal" text-anchor="middle" fill="#222" stroke="#222" stroke-width="0.3">270</text>
<text x="1258.8" y="899.2" font-size="21.8" font-weight="normal" text-anchor="middle" fill="#222" stroke="#222" stroke-width="0.3">360</text>
<text x="791.5" y="646.2" font-size="21" font-weight="bold" text-anchor="start" fill="#1a1ac6" >514.5nm</text>
<text transform="translate(703.3,743.8) rotate(-90)" font-size="21.4" font-weight="bold" text-anchor="middle" fill="#111">Intensity (Counts)</text>
<text x="108.5" y="32.8" font-size="35" font-weight="bold" text-anchor="start" fill="#000" >a</text>
<text x="790" y="32" font-size="34" font-weight="bold" text-anchor="start" fill="#000" >b</text>
<text x="331.4" y="927.8" font-size="21.35" font-weight="bold" text-anchor="middle" fill="#111" >Angle from Notch (deg.) Clock Wise</text>
<text x="1014" y="927.8" font-size="21.35" font-weight="bold" text-anchor="middle" fill="#111" >Angle from Notch (deg.) Clock Wise</text>
</svg></body></html>
